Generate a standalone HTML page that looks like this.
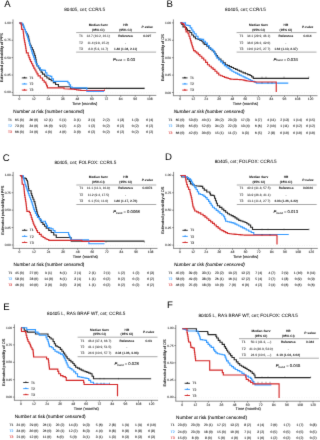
<!DOCTYPE html>
<html><head><meta charset="utf-8"><style>
html,body{margin:0;padding:0;background:#fff;width:320px;height:440px;overflow:hidden}
svg{display:block;will-change:transform;filter:none}
text{font-family:"Liberation Sans", sans-serif;text-rendering:geometricPrecision;paint-order:stroke}
</style></head><body>
<svg width="320" height="440" viewBox="0 0 320 440">
<defs><filter id="bl" x="0" y="0" width="1" height="1"><feConvolveMatrix order="3" kernelMatrix="0.00694 0.06944 0.00694 0.06944 0.69444 0.06944 0.00694 0.06944 0.00694" divisor="1" preserveAlpha="false" edgeMode="none"/></filter></defs>
<rect width="320" height="440" fill="#fff"/>
<g filter="url(#bl)">
<text x="4.20" y="6.60" font-size="9.6">A</text>
<text x="84.65" y="10.70" font-size="4.65" text-anchor="middle" stroke="#111" stroke-width="0.02">80405, cet; CCR/L5</text>
<text x="0.00" y="0.00" font-size="3.9" text-anchor="middle" stroke="#111" stroke-width="0.07" transform="translate(3.40,57.65) rotate(-90)">Estimated probability of PFS</text>
<line x1="14.00" y1="92.80" x2="156.30" y2="92.80" stroke="#ccc" stroke-width="0.3" stroke-dasharray="0.8,1.6"/>
<line x1="13.00" y1="19.40" x2="13.00" y2="95.40" stroke="#808080" stroke-width="0.9"/>
<line x1="12.55" y1="95.40" x2="156.30" y2="95.40" stroke="#808080" stroke-width="0.9"/>
<line x1="11.50" y1="22.90" x2="13.00" y2="22.90" stroke="#444" stroke-width="0.6"/>
<text x="10.70" y="23.95" font-size="3.2" text-anchor="end" fill="#333" stroke="#333" stroke-width="0.08">1.00</text>
<line x1="11.50" y1="40.27" x2="13.00" y2="40.27" stroke="#444" stroke-width="0.6"/>
<text x="10.70" y="41.32" font-size="3.2" text-anchor="end" fill="#333" stroke="#333" stroke-width="0.08">0.75</text>
<line x1="11.50" y1="57.65" x2="13.00" y2="57.65" stroke="#444" stroke-width="0.6"/>
<text x="10.70" y="58.70" font-size="3.2" text-anchor="end" fill="#333" stroke="#333" stroke-width="0.08">0.50</text>
<line x1="11.50" y1="75.03" x2="13.00" y2="75.03" stroke="#444" stroke-width="0.6"/>
<text x="10.70" y="76.08" font-size="3.2" text-anchor="end" fill="#333" stroke="#333" stroke-width="0.08">0.25</text>
<line x1="11.50" y1="92.40" x2="13.00" y2="92.40" stroke="#444" stroke-width="0.6"/>
<text x="10.70" y="93.45" font-size="3.2" text-anchor="end" fill="#333" stroke="#333" stroke-width="0.08">0.00</text>
<line x1="19.40" y1="95.40" x2="19.40" y2="96.80" stroke="#444" stroke-width="0.6"/>
<text x="19.40" y="100.10" font-size="3.4" text-anchor="middle" fill="#333" stroke="#333" stroke-width="0.08">0</text>
<line x1="33.88" y1="95.40" x2="33.88" y2="96.80" stroke="#444" stroke-width="0.6"/>
<text x="33.88" y="100.10" font-size="3.4" text-anchor="middle" fill="#333" stroke="#333" stroke-width="0.08">12</text>
<line x1="48.36" y1="95.40" x2="48.36" y2="96.80" stroke="#444" stroke-width="0.6"/>
<text x="48.36" y="100.10" font-size="3.4" text-anchor="middle" fill="#333" stroke="#333" stroke-width="0.08">24</text>
<line x1="62.84" y1="95.40" x2="62.84" y2="96.80" stroke="#444" stroke-width="0.6"/>
<text x="62.84" y="100.10" font-size="3.4" text-anchor="middle" fill="#333" stroke="#333" stroke-width="0.08">36</text>
<line x1="77.32" y1="95.40" x2="77.32" y2="96.80" stroke="#444" stroke-width="0.6"/>
<text x="77.32" y="100.10" font-size="3.4" text-anchor="middle" fill="#333" stroke="#333" stroke-width="0.08">48</text>
<line x1="91.80" y1="95.40" x2="91.80" y2="96.80" stroke="#444" stroke-width="0.6"/>
<text x="91.80" y="100.10" font-size="3.4" text-anchor="middle" fill="#333" stroke="#333" stroke-width="0.08">60</text>
<line x1="106.28" y1="95.40" x2="106.28" y2="96.80" stroke="#444" stroke-width="0.6"/>
<text x="106.28" y="100.10" font-size="3.4" text-anchor="middle" fill="#333" stroke="#333" stroke-width="0.08">72</text>
<line x1="120.76" y1="95.40" x2="120.76" y2="96.80" stroke="#444" stroke-width="0.6"/>
<text x="120.76" y="100.10" font-size="3.4" text-anchor="middle" fill="#333" stroke="#333" stroke-width="0.08">84</text>
<line x1="135.24" y1="95.40" x2="135.24" y2="96.80" stroke="#444" stroke-width="0.6"/>
<text x="135.24" y="100.10" font-size="3.4" text-anchor="middle" fill="#333" stroke="#333" stroke-width="0.08">96</text>
<line x1="149.72" y1="95.40" x2="149.72" y2="96.80" stroke="#444" stroke-width="0.6"/>
<text x="149.72" y="100.10" font-size="3.4" text-anchor="middle" fill="#333" stroke="#333" stroke-width="0.08">108</text>
<text x="84.65" y="104.60" font-size="3.95" text-anchor="middle" stroke="#111" stroke-width="0.06">Time (months)</text>
<polyline points="19.30,23.00 20.90,23.00 20.90,24.00 22.50,24.00 22.50,25.00 23.47,25.00 23.47,27.23 24.43,27.23 24.43,29.47 25.40,29.47 25.40,31.70 26.33,31.70 26.33,33.43 27.27,33.43 27.27,35.17 28.20,35.17 28.20,36.90 28.68,36.90 28.68,39.00 29.15,39.00 29.15,41.10 29.62,41.10 29.62,43.20 30.10,43.20 30.10,45.30 31.20,45.30 31.20,47.50 32.30,47.50 32.30,49.70 33.40,49.70 33.40,51.90 34.03,51.90 34.03,53.77 34.67,53.77 34.67,55.63 35.30,55.63 35.30,57.50 35.72,57.50 35.72,59.60 36.15,59.60 36.15,61.70 36.58,61.70 36.58,63.80 37.00,63.80 37.00,65.90 38.38,65.90 38.38,67.95 39.75,67.95 39.75,70.00 41.12,70.00 41.12,72.05 42.50,72.05 42.50,74.10 44.70,74.10 44.70,76.05 46.90,76.05 46.90,78.00 49.08,78.00 49.08,79.35 51.25,79.35 51.25,80.70 53.42,80.70 53.42,82.60 55.60,82.60 55.60,84.50 58.40,84.50 58.40,86.70 70.50,86.70 70.50,88.40 144.50,88.40" fill="none" stroke="#2b2b2b" stroke-width="1.15" stroke-linejoin="miter"/>
<polyline points="19.30,23.00 22.20,23.00 22.20,23.75 22.97,23.75 22.97,25.63 23.73,25.63 23.73,27.52 24.50,27.52 24.50,29.40 25.45,29.40 25.45,31.70 26.40,31.70 26.40,34.00 26.96,34.00 26.96,35.88 27.52,35.88 27.52,37.76 28.08,37.76 28.08,39.64 28.64,39.64 28.64,41.52 29.20,41.52 29.20,43.40 29.78,43.40 29.78,45.33 30.37,45.33 30.37,47.27 30.95,47.27 30.95,49.20 31.53,49.20 31.53,51.13 32.12,51.13 32.12,53.07 32.70,53.07 32.70,55.00 33.50,55.00 33.50,57.19 34.30,57.19 34.30,59.38 35.10,59.38 35.10,61.56 35.90,61.56 35.90,63.75 37.37,63.75 37.37,65.77 38.83,65.77 38.83,67.78 40.30,67.78 40.30,69.80 42.20,69.80 42.20,70.05 44.10,70.05 44.10,70.30 45.50,70.30 45.50,72.75 46.90,72.75 46.90,75.20 48.55,75.20 48.55,75.75 50.20,75.75 50.20,76.30 51.80,76.30 51.80,78.80 53.40,78.80 53.40,81.30 67.90,81.30 67.90,82.70 69.20,82.70 69.20,84.85 70.50,84.85 70.50,87.00 72.20,87.00 72.20,87.90 86.80,87.90 86.80,91.30 104.20,91.30" fill="none" stroke="#3399ff" stroke-width="1.15" stroke-linejoin="miter"/>
<polyline points="19.30,23.00 21.20,23.00 21.20,24.20 21.37,24.20 21.37,25.93 21.53,25.93 21.53,27.67 21.70,27.67 21.70,29.40 23.10,29.40 23.10,31.20 23.33,31.20 23.33,33.08 23.55,33.08 23.55,34.95 23.77,34.95 23.77,36.83 24.00,36.83 24.00,38.70 24.35,38.70 24.35,40.58 24.70,40.58 24.70,42.45 25.05,42.45 25.05,44.33 25.40,44.33 25.40,46.20 25.73,46.20 25.73,48.40 26.07,48.40 26.07,50.60 26.40,50.60 26.40,52.80 28.20,52.80 28.20,55.60 28.97,55.60 28.97,57.60 29.73,57.60 29.73,59.60 30.50,59.60 30.50,61.60 31.58,61.60 31.58,63.77 32.67,63.77 32.67,65.93 33.75,65.93 33.75,68.10 34.84,68.10 34.84,70.02 35.92,70.02 35.92,71.95 37.01,71.95 37.01,73.88 38.10,73.88 38.10,75.80 40.30,75.80 40.30,78.00 42.50,78.00 42.50,80.20 44.15,80.20 44.15,82.10 45.80,82.10 45.80,84.00 46.60,84.00 46.60,85.90 47.40,85.90 47.40,87.80 64.00,87.80 64.00,88.80 72.20,89.10 74.35,89.10 74.35,89.45 76.50,89.45 76.50,89.80 78.65,89.80 78.65,90.15 80.80,90.15 80.80,90.50 104.40,90.50 104.60,89.50" fill="none" stroke="#d42a2a" stroke-width="1.15" stroke-linejoin="miter"/>
<line x1="106.60" y1="87.60" x2="106.60" y2="89.10" stroke="#2b2b2b" stroke-width="0.45"/>
<line x1="109.00" y1="87.60" x2="109.00" y2="89.10" stroke="#2b2b2b" stroke-width="0.45"/>
<line x1="144.00" y1="87.60" x2="144.00" y2="89.10" stroke="#2b2b2b" stroke-width="0.45"/>
<line x1="21.80" y1="77.90" x2="27.20" y2="77.90" stroke="#2b2b2b" stroke-width="0.9"/>
<polygon points="23.20,78.20 24.50,76.60 25.80,78.20" fill="#2b2b2b"/>
<text x="29.60" y="79.00" font-size="3.3" fill="#222" stroke="#222" stroke-width="0.1">T1</text>
<line x1="21.80" y1="84.00" x2="27.20" y2="84.00" stroke="#3399ff" stroke-width="0.9"/>
<polygon points="23.20,84.30 24.50,82.70 25.80,84.30" fill="#3399ff"/>
<text x="29.60" y="85.10" font-size="3.3" fill="#222" stroke="#222" stroke-width="0.1">T2</text>
<line x1="21.80" y1="90.10" x2="27.20" y2="90.10" stroke="#d42a2a" stroke-width="0.9"/>
<polygon points="23.20,90.40 24.50,88.80 25.80,90.40" fill="#d42a2a"/>
<text x="29.60" y="91.20" font-size="3.3" fill="#222" stroke="#222" stroke-width="0.1">T3</text>
<line x1="76.20" y1="32.60" x2="156.10" y2="32.60" stroke="#555" stroke-width="0.5"/>
<line x1="76.20" y1="52.10" x2="156.10" y2="52.10" stroke="#555" stroke-width="0.5"/>
<text x="98.20" y="26.00" font-size="3.2" text-anchor="middle" font-weight="bold">Median Surv</text>
<text x="98.20" y="30.80" font-size="3.2" text-anchor="middle" font-weight="bold">(95% CI)</text>
<text x="125.50" y="26.00" font-size="3.2" text-anchor="middle" font-weight="bold">HR</text>
<text x="125.50" y="30.80" font-size="3.2" text-anchor="middle" font-weight="bold">(95% CI)</text>
<text x="147.20" y="28.30" font-size="3.2" text-anchor="middle" font-weight="bold" font-style="italic">P-value</text>
<text x="79.00" y="36.90" font-size="3.3" fill="#222" stroke="#222" stroke-width="0.06">T1</text>
<text x="98.20" y="36.90" font-size="3.2" text-anchor="middle" fill="#222" stroke="#222" stroke-width="0.04">12.7 (10.2, 16.1)</text>
<text x="79.00" y="43.80" font-size="3.3" fill="#222" stroke="#222" stroke-width="0.06">T2</text>
<text x="98.20" y="43.80" font-size="3.2" text-anchor="middle" fill="#222" stroke="#222" stroke-width="0.04">11.4 (9.8, 15.2)</text>
<text x="79.00" y="49.70" font-size="3.3" fill="#222" stroke="#222" stroke-width="0.06">T3</text>
<text x="98.20" y="49.70" font-size="3.2" text-anchor="middle" fill="#222" stroke="#222" stroke-width="0.04">8.0 (5.3, 11.7)</text>
<text x="125.50" y="36.90" font-size="3.2" text-anchor="middle" stroke="#111" stroke-width="0.08">Reference</text>
<text x="125.50" y="43.80" font-size="3.2" text-anchor="middle" stroke="#111" stroke-width="0.08">-</text>
<text x="125.50" y="49.70" font-size="3.2" text-anchor="middle" stroke="#111" stroke-width="0.08">1.48 (1.04, 2.11)</text>
<text x="147.20" y="36.90" font-size="3.2" text-anchor="middle" stroke="#111" stroke-width="0.08">0.027</text>
<text x="113.00" y="60.50" font-size="4.2" stroke="#111" stroke-width="0.05"><tspan font-style="italic">P</tspan><tspan font-size="2.8" dy="0.9">trend</tspan><tspan dy="-0.9"> = 0.03</tspan></text>
<text x="13.30" y="112.80" font-size="4.66" stroke="#111" stroke-width="0.05">Number at risk (number censored)</text>
<text x="8.00" y="120.60" font-size="3.3" fill="#2b2b2b" stroke="#2b2b2b" stroke-width="0.1">T1</text>
<text x="19.40" y="120.60" font-size="3.35" text-anchor="middle" fill="#222" stroke="#222" stroke-width="0.08">65 (0)</text>
<text x="33.88" y="120.60" font-size="3.35" text-anchor="middle" fill="#222" stroke="#222" stroke-width="0.08">36 (0)</text>
<text x="48.36" y="120.60" font-size="3.35" text-anchor="middle" fill="#222" stroke="#222" stroke-width="0.08">12 (1)</text>
<text x="62.84" y="120.60" font-size="3.35" text-anchor="middle" fill="#222" stroke="#222" stroke-width="0.08">5 (1)</text>
<text x="77.32" y="120.60" font-size="3.35" text-anchor="middle" fill="#222" stroke="#222" stroke-width="0.08">3 (1)</text>
<text x="91.80" y="120.60" font-size="3.35" text-anchor="middle" fill="#222" stroke="#222" stroke-width="0.08">3 (1)</text>
<text x="106.28" y="120.60" font-size="3.35" text-anchor="middle" fill="#222" stroke="#222" stroke-width="0.08">2 (2)</text>
<text x="120.76" y="120.60" font-size="3.35" text-anchor="middle" fill="#222" stroke="#222" stroke-width="0.08">1 (3)</text>
<text x="135.24" y="120.60" font-size="3.35" text-anchor="middle" fill="#222" stroke="#222" stroke-width="0.08">1 (3)</text>
<text x="149.72" y="120.60" font-size="3.35" text-anchor="middle" fill="#222" stroke="#222" stroke-width="0.08">0 (4)</text>
<text x="8.00" y="126.80" font-size="3.3" fill="#3399ff" stroke="#3399ff" stroke-width="0.1">T2</text>
<text x="19.40" y="126.80" font-size="3.35" text-anchor="middle" fill="#222" stroke="#222" stroke-width="0.08">73 (0)</text>
<text x="33.88" y="126.80" font-size="3.35" text-anchor="middle" fill="#222" stroke="#222" stroke-width="0.08">34 (0)</text>
<text x="48.36" y="126.80" font-size="3.35" text-anchor="middle" fill="#222" stroke="#222" stroke-width="0.08">16 (0)</text>
<text x="62.84" y="126.80" font-size="3.35" text-anchor="middle" fill="#222" stroke="#222" stroke-width="0.08">9 (2)</text>
<text x="77.32" y="126.80" font-size="3.35" text-anchor="middle" fill="#222" stroke="#222" stroke-width="0.08">4 (2)</text>
<text x="91.80" y="126.80" font-size="3.35" text-anchor="middle" fill="#222" stroke="#222" stroke-width="0.08">1 (2)</text>
<text x="106.28" y="126.80" font-size="3.35" text-anchor="middle" fill="#222" stroke="#222" stroke-width="0.08">0 (2)</text>
<text x="120.76" y="126.80" font-size="3.35" text-anchor="middle" fill="#222" stroke="#222" stroke-width="0.08">0 (2)</text>
<text x="135.24" y="126.80" font-size="3.35" text-anchor="middle" fill="#222" stroke="#222" stroke-width="0.08">0 (2)</text>
<text x="149.72" y="126.80" font-size="3.35" text-anchor="middle" fill="#222" stroke="#222" stroke-width="0.08">0 (2)</text>
<text x="8.00" y="133.20" font-size="3.3" fill="#d42a2a" stroke="#d42a2a" stroke-width="0.1">T3</text>
<text x="19.40" y="133.20" font-size="3.35" text-anchor="middle" fill="#222" stroke="#222" stroke-width="0.08">66 (0)</text>
<text x="33.88" y="133.20" font-size="3.35" text-anchor="middle" fill="#222" stroke="#222" stroke-width="0.08">24 (0)</text>
<text x="48.36" y="133.20" font-size="3.35" text-anchor="middle" fill="#222" stroke="#222" stroke-width="0.08">4 (0)</text>
<text x="62.84" y="133.20" font-size="3.35" text-anchor="middle" fill="#222" stroke="#222" stroke-width="0.08">4 (0)</text>
<text x="77.32" y="133.20" font-size="3.35" text-anchor="middle" fill="#222" stroke="#222" stroke-width="0.08">3 (0)</text>
<text x="91.80" y="133.20" font-size="3.35" text-anchor="middle" fill="#222" stroke="#222" stroke-width="0.08">0 (2)</text>
<text x="106.28" y="133.20" font-size="3.35" text-anchor="middle" fill="#222" stroke="#222" stroke-width="0.08">0 (2)</text>
<text x="120.76" y="133.20" font-size="3.35" text-anchor="middle" fill="#222" stroke="#222" stroke-width="0.08">0 (2)</text>
<text x="135.24" y="133.20" font-size="3.35" text-anchor="middle" fill="#222" stroke="#222" stroke-width="0.08">0 (2)</text>
<text x="149.72" y="133.20" font-size="3.35" text-anchor="middle" fill="#222" stroke="#222" stroke-width="0.08">0 (2)</text>
<text x="166.40" y="6.60" font-size="9.6">B</text>
<text x="245.45" y="10.70" font-size="4.65" text-anchor="middle" stroke="#111" stroke-width="0.02">80405, cet; CCR/L5</text>
<text x="0.00" y="0.00" font-size="3.9" text-anchor="middle" stroke="#111" stroke-width="0.07" transform="translate(163.80,57.70) rotate(-90)">Estimated probability of OS</text>
<line x1="174.40" y1="92.90" x2="317.50" y2="92.90" stroke="#ccc" stroke-width="0.3" stroke-dasharray="0.8,1.6"/>
<line x1="173.40" y1="19.40" x2="173.40" y2="95.70" stroke="#808080" stroke-width="0.9"/>
<line x1="172.95" y1="95.70" x2="317.50" y2="95.70" stroke="#808080" stroke-width="0.9"/>
<line x1="171.90" y1="22.90" x2="173.40" y2="22.90" stroke="#444" stroke-width="0.6"/>
<text x="171.10" y="23.95" font-size="3.2" text-anchor="end" fill="#333" stroke="#333" stroke-width="0.08">1.00</text>
<line x1="171.90" y1="40.30" x2="173.40" y2="40.30" stroke="#444" stroke-width="0.6"/>
<text x="171.10" y="41.35" font-size="3.2" text-anchor="end" fill="#333" stroke="#333" stroke-width="0.08">0.75</text>
<line x1="171.90" y1="57.70" x2="173.40" y2="57.70" stroke="#444" stroke-width="0.6"/>
<text x="171.10" y="58.75" font-size="3.2" text-anchor="end" fill="#333" stroke="#333" stroke-width="0.08">0.50</text>
<line x1="171.90" y1="75.10" x2="173.40" y2="75.10" stroke="#444" stroke-width="0.6"/>
<text x="171.10" y="76.15" font-size="3.2" text-anchor="end" fill="#333" stroke="#333" stroke-width="0.08">0.25</text>
<line x1="171.90" y1="92.50" x2="173.40" y2="92.50" stroke="#444" stroke-width="0.6"/>
<text x="171.10" y="93.55" font-size="3.2" text-anchor="end" fill="#333" stroke="#333" stroke-width="0.08">0.00</text>
<line x1="180.10" y1="95.70" x2="180.10" y2="97.10" stroke="#444" stroke-width="0.6"/>
<text x="180.10" y="100.40" font-size="3.4" text-anchor="middle" fill="#333" stroke="#333" stroke-width="0.08">0</text>
<line x1="193.15" y1="95.70" x2="193.15" y2="97.10" stroke="#444" stroke-width="0.6"/>
<text x="193.15" y="100.40" font-size="3.4" text-anchor="middle" fill="#333" stroke="#333" stroke-width="0.08">12</text>
<line x1="206.20" y1="95.70" x2="206.20" y2="97.10" stroke="#444" stroke-width="0.6"/>
<text x="206.20" y="100.40" font-size="3.4" text-anchor="middle" fill="#333" stroke="#333" stroke-width="0.08">24</text>
<line x1="219.25" y1="95.70" x2="219.25" y2="97.10" stroke="#444" stroke-width="0.6"/>
<text x="219.25" y="100.40" font-size="3.4" text-anchor="middle" fill="#333" stroke="#333" stroke-width="0.08">36</text>
<line x1="232.30" y1="95.70" x2="232.30" y2="97.10" stroke="#444" stroke-width="0.6"/>
<text x="232.30" y="100.40" font-size="3.4" text-anchor="middle" fill="#333" stroke="#333" stroke-width="0.08">48</text>
<line x1="245.35" y1="95.70" x2="245.35" y2="97.10" stroke="#444" stroke-width="0.6"/>
<text x="245.35" y="100.40" font-size="3.4" text-anchor="middle" fill="#333" stroke="#333" stroke-width="0.08">60</text>
<line x1="258.40" y1="95.70" x2="258.40" y2="97.10" stroke="#444" stroke-width="0.6"/>
<text x="258.40" y="100.40" font-size="3.4" text-anchor="middle" fill="#333" stroke="#333" stroke-width="0.08">72</text>
<line x1="271.45" y1="95.70" x2="271.45" y2="97.10" stroke="#444" stroke-width="0.6"/>
<text x="271.45" y="100.40" font-size="3.4" text-anchor="middle" fill="#333" stroke="#333" stroke-width="0.08">84</text>
<line x1="284.50" y1="95.70" x2="284.50" y2="97.10" stroke="#444" stroke-width="0.6"/>
<text x="284.50" y="100.40" font-size="3.4" text-anchor="middle" fill="#333" stroke="#333" stroke-width="0.08">96</text>
<line x1="297.55" y1="95.70" x2="297.55" y2="97.10" stroke="#444" stroke-width="0.6"/>
<text x="297.55" y="100.40" font-size="3.4" text-anchor="middle" fill="#333" stroke="#333" stroke-width="0.08">108</text>
<line x1="310.60" y1="95.70" x2="310.60" y2="97.10" stroke="#444" stroke-width="0.6"/>
<text x="310.60" y="100.40" font-size="3.4" text-anchor="middle" fill="#333" stroke="#333" stroke-width="0.08">120</text>
<text x="245.45" y="104.90" font-size="3.95" text-anchor="middle" stroke="#111" stroke-width="0.06">Time (months)</text>
<polyline points="180.50,22.90 181.75,22.90 181.75,24.40 183.00,24.40 183.00,26.90 185.50,26.90 185.50,27.50 186.45,27.50 186.45,29.05 187.40,29.05 187.40,30.60 189.90,30.60 189.90,32.50 191.75,32.50 191.75,35.00 193.62,35.00 193.62,36.88 195.50,36.88 195.50,38.75 198.00,38.75 198.00,39.40 199.88,39.40 199.88,40.33 201.75,40.33 201.75,41.25 203.00,41.25 203.00,42.83 204.25,42.83 204.25,44.40 206.75,44.40 206.75,46.25 208.62,46.25 208.62,47.83 210.50,47.83 210.50,49.40 212.05,49.40 212.05,50.65 213.60,50.65 213.60,51.90 214.89,51.90 214.89,53.70 216.18,53.70 216.18,55.50 217.46,55.50 217.46,57.30 218.75,57.30 218.75,59.10 220.93,59.10 220.93,60.97 223.12,60.97 223.12,62.83 225.30,62.83 225.30,64.70 227.36,64.70 227.36,65.64 229.42,65.64 229.42,66.58 231.48,66.58 231.48,67.52 233.54,67.52 233.54,68.46 235.60,68.46 235.60,69.40 237.49,69.40 237.49,70.25 239.38,70.25 239.38,71.10 241.26,71.10 241.26,71.95 243.15,71.95 243.15,72.80 245.43,72.80 245.43,73.70 247.72,73.70 247.72,74.60 250.00,74.60 250.00,75.50 251.65,75.50 251.65,76.90 253.30,76.90 253.30,78.30 309.00,78.30" fill="none" stroke="#2b2b2b" stroke-width="1.15" stroke-linejoin="miter"/>
<polyline points="180.50,22.90 184.25,22.90 185.50,22.90 185.50,25.00 187.05,25.00 187.05,25.30 188.60,25.30 188.60,25.60 190.18,25.60 190.18,27.80 191.75,27.80 191.75,30.00 193.00,30.00 193.00,31.88 194.25,31.88 194.25,33.75 196.12,33.75 196.12,36.25 198.00,36.25 198.00,38.75 199.88,38.75 199.88,39.08 201.75,39.08 201.75,39.40 203.62,39.40 203.62,41.25 205.50,41.25 205.50,43.10 207.38,43.10 207.38,45.60 209.25,45.60 209.25,48.10 211.12,48.10 211.12,49.35 213.00,49.35 213.00,50.60 213.97,50.60 213.97,52.48 214.95,52.48 214.95,54.35 215.93,54.35 215.93,56.23 216.90,56.23 216.90,58.10 218.78,58.10 218.78,59.98 220.65,59.98 220.65,61.85 222.53,61.85 222.53,63.72 224.40,63.72 224.40,65.60 226.28,65.60 226.28,67.01 228.15,67.01 228.15,68.42 230.03,68.42 230.03,69.84 231.90,69.84 231.90,71.25 233.77,71.25 233.77,72.20 235.64,72.20 235.64,73.15 237.51,73.15 237.51,74.10 239.38,74.10 239.38,75.05 241.25,75.05 241.25,76.00 243.13,76.00 243.13,76.92 245.01,76.92 245.01,77.84 246.89,77.84 246.89,78.76 248.77,78.76 248.77,79.68 250.65,79.68 250.65,80.60 252.53,80.60 252.53,81.43 254.42,81.43 254.42,82.27 256.30,82.27 256.30,83.10 288.30,83.10" fill="none" stroke="#3399ff" stroke-width="1.15" stroke-linejoin="miter"/>
<polyline points="180.50,22.90 182.05,22.90 182.05,23.65 183.60,23.65 183.60,24.40 184.25,24.40 184.25,25.95 184.90,25.95 184.90,27.50 185.50,27.50 185.50,29.70 186.10,29.70 186.10,31.90 188.00,31.90 188.00,33.75 188.95,33.75 188.95,36.25 189.90,36.25 189.90,38.75 190.52,38.75 190.52,40.83 191.13,40.83 191.13,42.92 191.75,42.92 191.75,45.00 192.37,45.00 192.37,46.87 192.98,46.87 192.98,48.73 193.60,48.73 193.60,50.60 195.18,50.60 195.18,51.85 196.75,51.85 196.75,53.10 198.32,53.10 198.32,54.67 199.90,54.67 199.90,56.25 201.82,56.25 201.82,58.12 203.75,58.12 203.75,60.00 205.62,60.00 205.62,62.35 207.50,62.35 207.50,64.70 209.37,64.70 209.37,66.27 211.23,66.27 211.23,67.83 213.10,67.83 213.10,69.40 214.98,69.40 214.98,71.27 216.87,71.27 216.87,73.13 218.75,73.13 218.75,75.00 220.63,75.00 220.63,75.77 222.52,75.77 222.52,76.53 224.40,76.53 224.40,77.30 226.27,77.30 226.27,77.90 228.13,77.90 228.13,78.50 230.00,78.50 230.00,79.10 231.88,79.10 231.88,79.20 233.75,79.20 233.75,79.30 235.62,79.30 235.62,79.40 237.50,79.40 237.50,79.50 239.38,79.50 239.38,79.60 241.25,79.60 241.25,79.70 243.13,79.70 243.13,80.13 245.02,80.13 245.02,80.57 246.90,80.57 246.90,81.00 249.05,81.00 249.05,81.25 251.20,81.25 251.20,81.50 253.35,81.50 253.35,81.75 255.50,81.75 255.50,82.00 276.25,82.00 276.25,91.90" fill="none" stroke="#d42a2a" stroke-width="1.15" stroke-linejoin="miter"/>
<line x1="262.00" y1="76.50" x2="262.00" y2="78.00" stroke="#2b2b2b" stroke-width="0.45"/>
<line x1="266.00" y1="76.50" x2="266.00" y2="78.00" stroke="#2b2b2b" stroke-width="0.45"/>
<line x1="284.00" y1="76.50" x2="284.00" y2="78.00" stroke="#2b2b2b" stroke-width="0.45"/>
<line x1="308.70" y1="76.50" x2="308.70" y2="78.00" stroke="#2b2b2b" stroke-width="0.45"/>
<line x1="262.00" y1="82.10" x2="262.00" y2="83.60" stroke="#2b2b2b" stroke-width="0.45"/>
<line x1="268.00" y1="82.10" x2="268.00" y2="83.60" stroke="#2b2b2b" stroke-width="0.45"/>
<line x1="272.00" y1="82.10" x2="272.00" y2="83.60" stroke="#2b2b2b" stroke-width="0.45"/>
<line x1="182.20" y1="77.90" x2="187.60" y2="77.90" stroke="#2b2b2b" stroke-width="0.9"/>
<polygon points="183.60,78.20 184.90,76.60 186.20,78.20" fill="#2b2b2b"/>
<text x="190.00" y="79.00" font-size="3.3" fill="#222" stroke="#222" stroke-width="0.1">T1</text>
<line x1="182.20" y1="84.00" x2="187.60" y2="84.00" stroke="#3399ff" stroke-width="0.9"/>
<polygon points="183.60,84.30 184.90,82.70 186.20,84.30" fill="#3399ff"/>
<text x="190.00" y="85.10" font-size="3.3" fill="#222" stroke="#222" stroke-width="0.1">T2</text>
<line x1="182.20" y1="90.10" x2="187.60" y2="90.10" stroke="#d42a2a" stroke-width="0.9"/>
<polygon points="183.60,90.40 184.90,88.80 186.20,90.40" fill="#d42a2a"/>
<text x="190.00" y="91.20" font-size="3.3" fill="#222" stroke="#222" stroke-width="0.1">T3</text>
<line x1="236.60" y1="32.60" x2="316.50" y2="32.60" stroke="#555" stroke-width="0.5"/>
<line x1="236.60" y1="52.10" x2="316.50" y2="52.10" stroke="#555" stroke-width="0.5"/>
<text x="258.60" y="26.00" font-size="3.2" text-anchor="middle" font-weight="bold">Median Surv</text>
<text x="258.60" y="30.80" font-size="3.2" text-anchor="middle" font-weight="bold">(95% CI)</text>
<text x="285.90" y="26.00" font-size="3.2" text-anchor="middle" font-weight="bold">HR</text>
<text x="285.90" y="30.80" font-size="3.2" text-anchor="middle" font-weight="bold">(95% CI)</text>
<text x="307.60" y="28.30" font-size="3.2" text-anchor="middle" font-weight="bold" font-style="italic">P-value</text>
<text x="239.40" y="36.90" font-size="3.3" fill="#222" stroke="#222" stroke-width="0.06">T1</text>
<text x="258.60" y="36.90" font-size="3.2" text-anchor="middle" fill="#222" stroke="#222" stroke-width="0.04">34.1 (29.9, 46.1)</text>
<text x="239.40" y="43.80" font-size="3.3" fill="#222" stroke="#222" stroke-width="0.06">T2</text>
<text x="258.60" y="43.80" font-size="3.2" text-anchor="middle" fill="#222" stroke="#222" stroke-width="0.04">36.0 (28.2, 42.6)</text>
<text x="239.40" y="49.70" font-size="3.3" fill="#222" stroke="#222" stroke-width="0.06">T3</text>
<text x="258.60" y="49.70" font-size="3.2" text-anchor="middle" fill="#222" stroke="#222" stroke-width="0.04">19.0 (12.5, 27.7)</text>
<text x="285.90" y="36.90" font-size="3.2" text-anchor="middle" stroke="#111" stroke-width="0.08">Reference</text>
<text x="285.90" y="43.80" font-size="3.2" text-anchor="middle" stroke="#111" stroke-width="0.08">-</text>
<text x="285.90" y="49.70" font-size="3.2" text-anchor="middle" stroke="#111" stroke-width="0.08">1.62 (1.10, 2.37)</text>
<text x="307.60" y="36.90" font-size="3.2" text-anchor="middle" stroke="#111" stroke-width="0.08">0.014</text>
<text x="273.40" y="60.50" font-size="4.2" stroke="#111" stroke-width="0.05"><tspan font-style="italic">P</tspan><tspan font-size="2.8" dy="0.9">trend</tspan><tspan dy="-0.9"> = 0.034</tspan></text>
<text x="173.70" y="113.10" font-size="4.66" font-style="italic" stroke="#111" stroke-width="0.05">Number at risk (number censored)</text>
<text x="168.40" y="120.90" font-size="3.3" fill="#2b2b2b" stroke="#2b2b2b" stroke-width="0.1">T1</text>
<text x="180.10" y="120.90" font-size="3.35" text-anchor="middle" fill="#222" stroke="#222" stroke-width="0.08">65 (0)</text>
<text x="193.15" y="120.90" font-size="3.35" text-anchor="middle" fill="#222" stroke="#222" stroke-width="0.08">53 (0)</text>
<text x="206.20" y="120.90" font-size="3.35" text-anchor="middle" fill="#222" stroke="#222" stroke-width="0.08">40 (1)</text>
<text x="219.25" y="120.90" font-size="3.35" text-anchor="middle" fill="#222" stroke="#222" stroke-width="0.08">30 (2)</text>
<text x="232.30" y="120.90" font-size="3.35" text-anchor="middle" fill="#222" stroke="#222" stroke-width="0.08">23 (3)</text>
<text x="245.35" y="120.90" font-size="3.35" text-anchor="middle" fill="#222" stroke="#222" stroke-width="0.08">17 (3)</text>
<text x="258.40" y="120.90" font-size="3.35" text-anchor="middle" fill="#222" stroke="#222" stroke-width="0.08">9 (7)</text>
<text x="271.45" y="120.90" font-size="3.35" text-anchor="middle" fill="#222" stroke="#222" stroke-width="0.08">4 (11)</text>
<text x="284.50" y="120.90" font-size="3.35" text-anchor="middle" fill="#222" stroke="#222" stroke-width="0.08">2 (13)</text>
<text x="297.55" y="120.90" font-size="3.35" text-anchor="middle" fill="#222" stroke="#222" stroke-width="0.08">1 (14)</text>
<text x="310.60" y="120.90" font-size="3.35" text-anchor="middle" fill="#222" stroke="#222" stroke-width="0.08">0 (15)</text>
<text x="168.40" y="127.10" font-size="3.3" fill="#3399ff" stroke="#3399ff" stroke-width="0.1">T2</text>
<text x="180.10" y="127.10" font-size="3.35" text-anchor="middle" fill="#222" stroke="#222" stroke-width="0.08">73 (0)</text>
<text x="193.15" y="127.10" font-size="3.35" text-anchor="middle" fill="#222" stroke="#222" stroke-width="0.08">65 (0)</text>
<text x="206.20" y="127.10" font-size="3.35" text-anchor="middle" fill="#222" stroke="#222" stroke-width="0.08">52 (0)</text>
<text x="219.25" y="127.10" font-size="3.35" text-anchor="middle" fill="#222" stroke="#222" stroke-width="0.08">34 (2)</text>
<text x="232.30" y="127.10" font-size="3.35" text-anchor="middle" fill="#222" stroke="#222" stroke-width="0.08">22 (3)</text>
<text x="245.35" y="127.10" font-size="3.35" text-anchor="middle" fill="#222" stroke="#222" stroke-width="0.08">13 (4)</text>
<text x="258.40" y="127.10" font-size="3.35" text-anchor="middle" fill="#222" stroke="#222" stroke-width="0.08">6 (6)</text>
<text x="271.45" y="127.10" font-size="3.35" text-anchor="middle" fill="#222" stroke="#222" stroke-width="0.08">2 (10)</text>
<text x="284.50" y="127.10" font-size="3.35" text-anchor="middle" fill="#222" stroke="#222" stroke-width="0.08">1 (11)</text>
<text x="297.55" y="127.10" font-size="3.35" text-anchor="middle" fill="#222" stroke="#222" stroke-width="0.08">0 (12)</text>
<text x="310.60" y="127.10" font-size="3.35" text-anchor="middle" fill="#222" stroke="#222" stroke-width="0.08">0 (12)</text>
<text x="168.40" y="133.50" font-size="3.3" fill="#d42a2a" stroke="#d42a2a" stroke-width="0.1">T3</text>
<text x="180.10" y="133.50" font-size="3.35" text-anchor="middle" fill="#222" stroke="#222" stroke-width="0.08">66 (0)</text>
<text x="193.15" y="133.50" font-size="3.35" text-anchor="middle" fill="#222" stroke="#222" stroke-width="0.08">42 (0)</text>
<text x="206.20" y="133.50" font-size="3.35" text-anchor="middle" fill="#222" stroke="#222" stroke-width="0.08">30 (0)</text>
<text x="219.25" y="133.50" font-size="3.35" text-anchor="middle" fill="#222" stroke="#222" stroke-width="0.08">15 (1)</text>
<text x="232.30" y="133.50" font-size="3.35" text-anchor="middle" fill="#222" stroke="#222" stroke-width="0.08">11 (2)</text>
<text x="245.35" y="133.50" font-size="3.35" text-anchor="middle" fill="#222" stroke="#222" stroke-width="0.08">9 (3)</text>
<text x="258.40" y="133.50" font-size="3.35" text-anchor="middle" fill="#222" stroke="#222" stroke-width="0.08">6 (5)</text>
<text x="271.45" y="133.50" font-size="3.35" text-anchor="middle" fill="#222" stroke="#222" stroke-width="0.08">2 (8)</text>
<text x="284.50" y="133.50" font-size="3.35" text-anchor="middle" fill="#222" stroke="#222" stroke-width="0.08">0 (10)</text>
<text x="297.55" y="133.50" font-size="3.35" text-anchor="middle" fill="#222" stroke="#222" stroke-width="0.08">0 (10)</text>
<text x="310.60" y="133.50" font-size="3.35" text-anchor="middle" fill="#222" stroke="#222" stroke-width="0.08">0 (10)</text>
<text x="2.80" y="161.20" font-size="9.6">C</text>
<text x="85.33" y="163.50" font-size="4.65" text-anchor="middle" stroke="#111" stroke-width="0.02">80405, cet; FOLFOX: CCR/L5</text>
<text x="0.00" y="0.00" font-size="3.9" text-anchor="middle" stroke="#111" stroke-width="0.07" transform="translate(3.55,210.15) rotate(-90)">Estimated probability of PFS</text>
<line x1="14.15" y1="245.40" x2="157.50" y2="245.40" stroke="#ccc" stroke-width="0.3" stroke-dasharray="0.8,1.6"/>
<line x1="13.15" y1="171.90" x2="13.15" y2="248.40" stroke="#808080" stroke-width="0.9"/>
<line x1="12.70" y1="248.40" x2="157.50" y2="248.40" stroke="#808080" stroke-width="0.9"/>
<line x1="11.65" y1="175.30" x2="13.15" y2="175.30" stroke="#444" stroke-width="0.6"/>
<text x="10.85" y="176.35" font-size="3.2" text-anchor="end" fill="#333" stroke="#333" stroke-width="0.08">1.00</text>
<line x1="11.65" y1="192.73" x2="13.15" y2="192.73" stroke="#444" stroke-width="0.6"/>
<text x="10.85" y="193.78" font-size="3.2" text-anchor="end" fill="#333" stroke="#333" stroke-width="0.08">0.75</text>
<line x1="11.65" y1="210.15" x2="13.15" y2="210.15" stroke="#444" stroke-width="0.6"/>
<text x="10.85" y="211.20" font-size="3.2" text-anchor="end" fill="#333" stroke="#333" stroke-width="0.08">0.50</text>
<line x1="11.65" y1="227.57" x2="13.15" y2="227.57" stroke="#444" stroke-width="0.6"/>
<text x="10.85" y="228.62" font-size="3.2" text-anchor="end" fill="#333" stroke="#333" stroke-width="0.08">0.25</text>
<line x1="11.65" y1="245.00" x2="13.15" y2="245.00" stroke="#444" stroke-width="0.6"/>
<text x="10.85" y="246.05" font-size="3.2" text-anchor="end" fill="#333" stroke="#333" stroke-width="0.08">0.00</text>
<line x1="19.40" y1="248.40" x2="19.40" y2="249.80" stroke="#444" stroke-width="0.6"/>
<text x="19.40" y="253.10" font-size="3.4" text-anchor="middle" fill="#333" stroke="#333" stroke-width="0.08">0</text>
<line x1="33.98" y1="248.40" x2="33.98" y2="249.80" stroke="#444" stroke-width="0.6"/>
<text x="33.98" y="253.10" font-size="3.4" text-anchor="middle" fill="#333" stroke="#333" stroke-width="0.08">12</text>
<line x1="48.56" y1="248.40" x2="48.56" y2="249.80" stroke="#444" stroke-width="0.6"/>
<text x="48.56" y="253.10" font-size="3.4" text-anchor="middle" fill="#333" stroke="#333" stroke-width="0.08">24</text>
<line x1="63.14" y1="248.40" x2="63.14" y2="249.80" stroke="#444" stroke-width="0.6"/>
<text x="63.14" y="253.10" font-size="3.4" text-anchor="middle" fill="#333" stroke="#333" stroke-width="0.08">36</text>
<line x1="77.72" y1="248.40" x2="77.72" y2="249.80" stroke="#444" stroke-width="0.6"/>
<text x="77.72" y="253.10" font-size="3.4" text-anchor="middle" fill="#333" stroke="#333" stroke-width="0.08">48</text>
<line x1="92.30" y1="248.40" x2="92.30" y2="249.80" stroke="#444" stroke-width="0.6"/>
<text x="92.30" y="253.10" font-size="3.4" text-anchor="middle" fill="#333" stroke="#333" stroke-width="0.08">60</text>
<line x1="106.88" y1="248.40" x2="106.88" y2="249.80" stroke="#444" stroke-width="0.6"/>
<text x="106.88" y="253.10" font-size="3.4" text-anchor="middle" fill="#333" stroke="#333" stroke-width="0.08">72</text>
<line x1="121.46" y1="248.40" x2="121.46" y2="249.80" stroke="#444" stroke-width="0.6"/>
<text x="121.46" y="253.10" font-size="3.4" text-anchor="middle" fill="#333" stroke="#333" stroke-width="0.08">84</text>
<line x1="136.04" y1="248.40" x2="136.04" y2="249.80" stroke="#444" stroke-width="0.6"/>
<text x="136.04" y="253.10" font-size="3.4" text-anchor="middle" fill="#333" stroke="#333" stroke-width="0.08">96</text>
<line x1="150.62" y1="248.40" x2="150.62" y2="249.80" stroke="#444" stroke-width="0.6"/>
<text x="150.62" y="253.10" font-size="3.4" text-anchor="middle" fill="#333" stroke="#333" stroke-width="0.08">108</text>
<text x="85.33" y="257.60" font-size="3.95" text-anchor="middle" stroke="#111" stroke-width="0.06">Time (months)</text>
<polyline points="19.90,175.60 21.55,175.60 21.55,176.85 23.20,176.85 23.20,178.10 25.50,178.10 25.50,178.60 26.45,178.60 26.45,180.20 27.40,180.20 27.40,181.80 27.75,181.80 27.75,184.03 28.10,184.03 28.10,186.25 28.45,186.25 28.45,188.47 28.80,188.47 28.80,190.70 31.10,190.70 31.10,193.60 31.73,193.60 31.73,195.47 32.37,195.47 32.37,197.33 33.00,197.33 33.00,199.20 33.95,199.20 33.95,201.55 34.90,201.55 34.90,203.90 35.33,203.90 35.33,205.75 35.77,205.75 35.77,207.60 36.20,207.60 36.20,209.45 36.63,209.45 36.63,211.30 37.07,211.30 37.07,213.15 37.50,213.15 37.50,215.00 38.44,215.00 38.44,216.88 39.38,216.88 39.38,218.75 40.31,218.75 40.31,220.62 41.25,220.62 41.25,222.50 42.92,222.50 42.92,224.37 44.58,224.37 44.58,226.23 46.25,226.23 46.25,228.10 48.75,228.10 48.75,230.30 51.25,230.30 51.25,232.50 53.75,232.50 53.75,235.00 56.25,235.00 56.25,237.50 70.90,237.50 71.08,237.50 71.08,239.30 71.25,239.30 71.25,241.10 144.40,241.10" fill="none" stroke="#2b2b2b" stroke-width="1.15" stroke-linejoin="miter"/>
<polyline points="19.90,175.60 21.75,175.60 23.20,175.60 23.20,177.60 23.80,177.60 23.80,179.80 24.40,179.80 24.40,182.00 25.00,182.00 25.00,184.20 25.66,184.20 25.66,186.08 26.32,186.08 26.32,187.96 26.98,187.96 26.98,189.84 27.64,189.84 27.64,191.72 28.30,191.72 28.30,193.60 29.06,193.60 29.06,195.66 29.82,195.66 29.82,197.72 30.58,197.72 30.58,199.78 31.34,199.78 31.34,201.84 32.10,201.84 32.10,203.90 32.67,203.90 32.67,205.74 33.25,205.74 33.25,207.57 33.83,207.57 33.83,209.41 34.40,209.41 34.40,211.25 35.43,211.25 35.43,213.33 36.47,213.33 36.47,215.42 37.50,215.42 37.50,217.50 39.38,217.50 39.38,219.38 41.25,219.38 41.25,221.25 44.40,221.25 45.43,221.25 45.43,223.33 46.47,223.33 46.47,225.42 47.50,225.42 47.50,227.50 49.38,227.50 49.38,228.12 51.25,228.12 51.25,228.75 53.12,228.75 53.12,230.62 55.00,230.62 55.00,232.50 67.00,232.50 68.60,232.50 68.60,234.70 69.37,234.70 69.37,236.40 70.13,236.40 70.13,238.10 70.90,238.10 70.90,239.80 88.10,239.80 88.50,239.80 88.50,241.78 88.90,241.78 88.90,243.75 104.50,243.75" fill="none" stroke="#3399ff" stroke-width="1.15" stroke-linejoin="miter"/>
<polyline points="19.90,175.60 21.75,175.60 21.75,176.70 21.86,176.70 21.86,178.57 21.98,178.57 21.98,180.45 22.09,180.45 22.09,182.32 22.20,182.32 22.20,184.20 23.60,184.20 23.60,185.10 23.80,185.10 23.80,187.16 24.00,187.16 24.00,189.22 24.20,189.22 24.20,191.28 24.40,191.28 24.40,193.34 24.60,193.34 24.60,195.40 24.95,195.40 24.95,197.53 25.30,197.53 25.30,199.65 25.65,199.65 25.65,201.78 26.00,201.78 26.00,203.90 26.23,203.90 26.23,205.78 26.45,205.78 26.45,207.65 26.67,207.65 26.67,209.53 26.90,209.53 26.90,211.40 29.40,211.40 29.40,212.50 30.32,212.50 30.32,215.00 31.25,215.00 31.25,217.50 31.88,217.50 31.88,219.38 32.50,219.38 32.50,221.25 33.12,221.25 33.12,223.12 33.75,223.12 33.75,225.00 34.69,225.00 34.69,226.88 35.62,226.88 35.62,228.75 36.56,228.75 36.56,230.62 37.50,230.62 37.50,232.50 39.38,232.50 39.38,234.38 41.25,234.38 41.25,236.25 43.12,236.25 43.12,237.50 45.00,237.50 45.00,238.75 46.88,238.75 46.88,239.53 48.75,239.53 48.75,240.30 80.30,240.30 81.90,240.30 81.90,241.40 104.50,241.40" fill="none" stroke="#d42a2a" stroke-width="1.15" stroke-linejoin="miter"/>
<line x1="106.00" y1="241.20" x2="106.00" y2="242.70" stroke="#2b2b2b" stroke-width="0.45"/>
<line x1="144.40" y1="241.20" x2="144.40" y2="242.70" stroke="#2b2b2b" stroke-width="0.45"/>
<line x1="21.95" y1="230.30" x2="27.35" y2="230.30" stroke="#2b2b2b" stroke-width="0.9"/>
<polygon points="23.35,230.60 24.65,229.00 25.95,230.60" fill="#2b2b2b"/>
<text x="29.75" y="231.40" font-size="3.3" fill="#222" stroke="#222" stroke-width="0.1">T1</text>
<line x1="21.95" y1="236.40" x2="27.35" y2="236.40" stroke="#3399ff" stroke-width="0.9"/>
<polygon points="23.35,236.70 24.65,235.10 25.95,236.70" fill="#3399ff"/>
<text x="29.75" y="237.50" font-size="3.3" fill="#222" stroke="#222" stroke-width="0.1">T2</text>
<line x1="21.95" y1="242.50" x2="27.35" y2="242.50" stroke="#d42a2a" stroke-width="0.9"/>
<polygon points="23.35,242.80 24.65,241.20 25.95,242.80" fill="#d42a2a"/>
<text x="29.75" y="243.60" font-size="3.3" fill="#222" stroke="#222" stroke-width="0.1">T3</text>
<line x1="76.35" y1="185.00" x2="156.25" y2="185.00" stroke="#555" stroke-width="0.5"/>
<line x1="76.35" y1="204.50" x2="156.25" y2="204.50" stroke="#555" stroke-width="0.5"/>
<text x="98.35" y="178.40" font-size="3.2" text-anchor="middle" font-weight="bold">Median Surv</text>
<text x="98.35" y="183.20" font-size="3.2" text-anchor="middle" font-weight="bold">(95% CI)</text>
<text x="125.65" y="178.40" font-size="3.2" text-anchor="middle" font-weight="bold">HR</text>
<text x="125.65" y="183.20" font-size="3.2" text-anchor="middle" font-weight="bold">(95% CI)</text>
<text x="147.35" y="180.70" font-size="3.2" text-anchor="middle" font-weight="bold" font-style="italic">P-value</text>
<text x="79.15" y="189.30" font-size="3.3" fill="#222" stroke="#222" stroke-width="0.06">T1</text>
<text x="98.35" y="189.30" font-size="3.2" text-anchor="middle" fill="#222" stroke="#222" stroke-width="0.04">13.1 (11.3, 16.8)</text>
<text x="79.15" y="196.20" font-size="3.3" fill="#222" stroke="#222" stroke-width="0.06">T2</text>
<text x="98.35" y="196.20" font-size="3.2" text-anchor="middle" fill="#222" stroke="#222" stroke-width="0.04">11.2 (9.4, 17.5)</text>
<text x="79.15" y="202.10" font-size="3.3" fill="#222" stroke="#222" stroke-width="0.06">T3</text>
<text x="98.35" y="202.10" font-size="3.2" text-anchor="middle" fill="#222" stroke="#222" stroke-width="0.04">6.1 (5.0, 11.0)</text>
<text x="125.65" y="189.30" font-size="3.2" text-anchor="middle" stroke="#111" stroke-width="0.08">Reference</text>
<text x="125.65" y="196.20" font-size="3.2" text-anchor="middle" stroke="#111" stroke-width="0.08">-</text>
<text x="125.65" y="202.10" font-size="3.2" text-anchor="middle" stroke="#111" stroke-width="0.08">1.80 (1.17, 2.76)</text>
<text x="147.35" y="189.30" font-size="3.2" text-anchor="middle" stroke="#111" stroke-width="0.08">0.0073</text>
<text x="113.15" y="212.90" font-size="4.2" stroke="#111" stroke-width="0.05"><tspan font-style="italic">P</tspan><tspan font-size="2.8" dy="0.9">trend</tspan><tspan dy="-0.9"> = 0.0068</tspan></text>
<text x="13.45" y="265.80" font-size="4.66" stroke="#111" stroke-width="0.05">Number at risk (number censored)</text>
<text x="8.15" y="273.60" font-size="3.3" fill="#2b2b2b" stroke="#2b2b2b" stroke-width="0.1">T1</text>
<text x="19.40" y="273.60" font-size="3.35" text-anchor="middle" fill="#222" stroke="#222" stroke-width="0.08">45 (0)</text>
<text x="33.98" y="273.60" font-size="3.35" text-anchor="middle" fill="#222" stroke="#222" stroke-width="0.08">27 (0)</text>
<text x="48.56" y="273.60" font-size="3.35" text-anchor="middle" fill="#222" stroke="#222" stroke-width="0.08">9 (1)</text>
<text x="63.14" y="273.60" font-size="3.35" text-anchor="middle" fill="#222" stroke="#222" stroke-width="0.08">6 (1)</text>
<text x="77.72" y="273.60" font-size="3.35" text-anchor="middle" fill="#222" stroke="#222" stroke-width="0.08">2 (1)</text>
<text x="92.30" y="273.60" font-size="3.35" text-anchor="middle" fill="#222" stroke="#222" stroke-width="0.08">2 (1)</text>
<text x="106.88" y="273.60" font-size="3.35" text-anchor="middle" fill="#222" stroke="#222" stroke-width="0.08">2 (1)</text>
<text x="121.46" y="273.60" font-size="3.35" text-anchor="middle" fill="#222" stroke="#222" stroke-width="0.08">1 (2)</text>
<text x="136.04" y="273.60" font-size="3.35" text-anchor="middle" fill="#222" stroke="#222" stroke-width="0.08">1 (2)</text>
<text x="150.62" y="273.60" font-size="3.35" text-anchor="middle" fill="#222" stroke="#222" stroke-width="0.08">0 (3)</text>
<text x="8.15" y="279.80" font-size="3.3" fill="#3399ff" stroke="#3399ff" stroke-width="0.1">T2</text>
<text x="19.40" y="279.80" font-size="3.35" text-anchor="middle" fill="#222" stroke="#222" stroke-width="0.08">58 (0)</text>
<text x="33.98" y="279.80" font-size="3.35" text-anchor="middle" fill="#222" stroke="#222" stroke-width="0.08">28 (0)</text>
<text x="48.56" y="279.80" font-size="3.35" text-anchor="middle" fill="#222" stroke="#222" stroke-width="0.08">14 (0)</text>
<text x="63.14" y="279.80" font-size="3.35" text-anchor="middle" fill="#222" stroke="#222" stroke-width="0.08">6 (1)</text>
<text x="77.72" y="279.80" font-size="3.35" text-anchor="middle" fill="#222" stroke="#222" stroke-width="0.08">3 (1)</text>
<text x="92.30" y="279.80" font-size="3.35" text-anchor="middle" fill="#222" stroke="#222" stroke-width="0.08">1 (1)</text>
<text x="106.88" y="279.80" font-size="3.35" text-anchor="middle" fill="#222" stroke="#222" stroke-width="0.08">0 (2)</text>
<text x="121.46" y="279.80" font-size="3.35" text-anchor="middle" fill="#222" stroke="#222" stroke-width="0.08">0 (2)</text>
<text x="136.04" y="279.80" font-size="3.35" text-anchor="middle" fill="#222" stroke="#222" stroke-width="0.08">0 (2)</text>
<text x="150.62" y="279.80" font-size="3.35" text-anchor="middle" fill="#222" stroke="#222" stroke-width="0.08">0 (2)</text>
<text x="8.15" y="286.20" font-size="3.3" fill="#d42a2a" stroke="#d42a2a" stroke-width="0.1">T3</text>
<text x="19.40" y="286.20" font-size="3.35" text-anchor="middle" fill="#222" stroke="#222" stroke-width="0.08">46 (0)</text>
<text x="33.98" y="286.20" font-size="3.35" text-anchor="middle" fill="#222" stroke="#222" stroke-width="0.08">10 (0)</text>
<text x="48.56" y="286.20" font-size="3.35" text-anchor="middle" fill="#222" stroke="#222" stroke-width="0.08">3 (0)</text>
<text x="63.14" y="286.20" font-size="3.35" text-anchor="middle" fill="#222" stroke="#222" stroke-width="0.08">3 (0)</text>
<text x="77.72" y="286.20" font-size="3.35" text-anchor="middle" fill="#222" stroke="#222" stroke-width="0.08">3 (0)</text>
<text x="92.30" y="286.20" font-size="3.35" text-anchor="middle" fill="#222" stroke="#222" stroke-width="0.08">1 (1)</text>
<text x="106.88" y="286.20" font-size="3.35" text-anchor="middle" fill="#222" stroke="#222" stroke-width="0.08">0 (2)</text>
<text x="121.46" y="286.20" font-size="3.35" text-anchor="middle" fill="#222" stroke="#222" stroke-width="0.08">0 (2)</text>
<text x="136.04" y="286.20" font-size="3.35" text-anchor="middle" fill="#222" stroke="#222" stroke-width="0.08">0 (2)</text>
<text x="150.62" y="286.20" font-size="3.35" text-anchor="middle" fill="#222" stroke="#222" stroke-width="0.08">0 (2)</text>
<text x="165.00" y="160.20" font-size="9.6">D</text>
<text x="245.70" y="163.10" font-size="4.65" text-anchor="middle" stroke="#111" stroke-width="0.02">80405, cet; FOLFOX: CCR/L5</text>
<text x="0.00" y="0.00" font-size="3.9" text-anchor="middle" stroke="#111" stroke-width="0.07" transform="translate(164.00,210.20) rotate(-90)">Estimated probability of OS</text>
<line x1="174.60" y1="245.50" x2="317.80" y2="245.50" stroke="#ccc" stroke-width="0.3" stroke-dasharray="0.8,1.6"/>
<line x1="173.60" y1="171.90" x2="173.60" y2="248.40" stroke="#808080" stroke-width="0.9"/>
<line x1="173.15" y1="248.40" x2="317.80" y2="248.40" stroke="#808080" stroke-width="0.9"/>
<line x1="172.10" y1="175.30" x2="173.60" y2="175.30" stroke="#444" stroke-width="0.6"/>
<text x="171.30" y="176.35" font-size="3.2" text-anchor="end" fill="#333" stroke="#333" stroke-width="0.08">1.00</text>
<line x1="172.10" y1="192.75" x2="173.60" y2="192.75" stroke="#444" stroke-width="0.6"/>
<text x="171.30" y="193.80" font-size="3.2" text-anchor="end" fill="#333" stroke="#333" stroke-width="0.08">0.75</text>
<line x1="172.10" y1="210.20" x2="173.60" y2="210.20" stroke="#444" stroke-width="0.6"/>
<text x="171.30" y="211.25" font-size="3.2" text-anchor="end" fill="#333" stroke="#333" stroke-width="0.08">0.50</text>
<line x1="172.10" y1="227.65" x2="173.60" y2="227.65" stroke="#444" stroke-width="0.6"/>
<text x="171.30" y="228.70" font-size="3.2" text-anchor="end" fill="#333" stroke="#333" stroke-width="0.08">0.25</text>
<line x1="172.10" y1="245.10" x2="173.60" y2="245.10" stroke="#444" stroke-width="0.6"/>
<text x="171.30" y="246.15" font-size="3.2" text-anchor="end" fill="#333" stroke="#333" stroke-width="0.08">0.00</text>
<line x1="180.00" y1="248.40" x2="180.00" y2="249.80" stroke="#444" stroke-width="0.6"/>
<text x="180.00" y="253.10" font-size="3.4" text-anchor="middle" fill="#333" stroke="#333" stroke-width="0.08">0</text>
<line x1="193.12" y1="248.40" x2="193.12" y2="249.80" stroke="#444" stroke-width="0.6"/>
<text x="193.12" y="253.10" font-size="3.4" text-anchor="middle" fill="#333" stroke="#333" stroke-width="0.08">12</text>
<line x1="206.25" y1="248.40" x2="206.25" y2="249.80" stroke="#444" stroke-width="0.6"/>
<text x="206.25" y="253.10" font-size="3.4" text-anchor="middle" fill="#333" stroke="#333" stroke-width="0.08">24</text>
<line x1="219.38" y1="248.40" x2="219.38" y2="249.80" stroke="#444" stroke-width="0.6"/>
<text x="219.38" y="253.10" font-size="3.4" text-anchor="middle" fill="#333" stroke="#333" stroke-width="0.08">36</text>
<line x1="232.50" y1="248.40" x2="232.50" y2="249.80" stroke="#444" stroke-width="0.6"/>
<text x="232.50" y="253.10" font-size="3.4" text-anchor="middle" fill="#333" stroke="#333" stroke-width="0.08">48</text>
<line x1="245.62" y1="248.40" x2="245.62" y2="249.80" stroke="#444" stroke-width="0.6"/>
<text x="245.62" y="253.10" font-size="3.4" text-anchor="middle" fill="#333" stroke="#333" stroke-width="0.08">60</text>
<line x1="258.75" y1="248.40" x2="258.75" y2="249.80" stroke="#444" stroke-width="0.6"/>
<text x="258.75" y="253.10" font-size="3.4" text-anchor="middle" fill="#333" stroke="#333" stroke-width="0.08">72</text>
<line x1="271.88" y1="248.40" x2="271.88" y2="249.80" stroke="#444" stroke-width="0.6"/>
<text x="271.88" y="253.10" font-size="3.4" text-anchor="middle" fill="#333" stroke="#333" stroke-width="0.08">84</text>
<line x1="285.00" y1="248.40" x2="285.00" y2="249.80" stroke="#444" stroke-width="0.6"/>
<text x="285.00" y="253.10" font-size="3.4" text-anchor="middle" fill="#333" stroke="#333" stroke-width="0.08">96</text>
<line x1="298.12" y1="248.40" x2="298.12" y2="249.80" stroke="#444" stroke-width="0.6"/>
<text x="298.12" y="253.10" font-size="3.4" text-anchor="middle" fill="#333" stroke="#333" stroke-width="0.08">108</text>
<line x1="311.25" y1="248.40" x2="311.25" y2="249.80" stroke="#444" stroke-width="0.6"/>
<text x="311.25" y="253.10" font-size="3.4" text-anchor="middle" fill="#333" stroke="#333" stroke-width="0.08">120</text>
<text x="245.70" y="257.60" font-size="3.95" text-anchor="middle" stroke="#111" stroke-width="0.06">Time (months)</text>
<polyline points="180.50,175.50 181.75,175.50 181.75,177.00 185.50,177.00 187.38,177.00 187.38,179.20 189.25,179.20 189.25,181.40 190.50,181.40 190.50,183.90 192.38,183.90 192.38,184.82 194.25,184.82 194.25,185.75 196.53,185.75 196.53,185.97 198.82,185.97 198.82,186.18 201.10,186.18 201.10,186.40 202.68,186.40 202.68,188.25 204.25,188.25 204.25,190.10 206.75,190.10 206.75,192.00 209.25,192.00 209.88,192.00 209.88,193.55 210.50,193.55 210.50,195.10 212.05,195.10 212.05,195.43 213.60,195.43 213.60,195.75 214.55,195.75 214.55,198.25 215.50,198.25 215.50,200.75 216.45,200.75 216.45,203.25 217.40,203.25 217.40,205.75 219.65,205.75 219.65,207.43 221.90,207.43 221.90,209.10 223.77,209.10 223.77,210.65 225.63,210.65 225.63,212.20 227.50,212.20 227.50,213.75 229.38,213.75 229.38,214.70 231.27,214.70 231.27,215.65 233.15,215.65 233.15,216.60 235.02,216.60 235.02,217.83 236.88,217.83 236.88,219.07 238.75,219.07 238.75,220.30 240.83,220.30 240.83,221.03 242.92,221.03 242.92,221.77 245.00,221.77 245.00,222.50 246.88,222.50 246.88,223.75 248.75,223.75 248.75,225.00 250.62,225.00 250.62,227.25 252.50,227.25 252.50,229.50 308.75,229.50" fill="none" stroke="#2b2b2b" stroke-width="1.15" stroke-linejoin="miter"/>
<polyline points="180.50,175.50 182.58,175.50 182.58,176.20 184.67,176.20 184.67,176.90 186.75,176.90 186.75,177.60 188.62,177.60 188.62,178.85 190.50,178.85 190.50,180.10 191.53,180.10 191.53,181.98 192.57,181.98 192.57,183.87 193.60,183.87 193.60,185.75 194.85,185.75 194.85,187.62 196.10,187.62 196.10,189.50 197.35,189.50 197.35,191.70 198.60,191.70 198.60,193.90 200.50,193.90 200.50,194.50 202.40,194.50 202.40,195.10 203.95,195.10 203.95,196.35 205.50,196.35 205.50,197.60 207.05,197.60 207.05,199.50 208.60,199.50 208.60,201.40 209.90,201.40 209.90,203.33 211.20,203.33 211.20,205.27 212.50,205.27 212.50,207.20 214.37,207.20 214.37,208.77 216.23,208.77 216.23,210.33 218.10,210.33 218.10,211.90 219.98,211.90 219.98,213.47 221.87,213.47 221.87,215.03 223.75,215.03 223.75,216.60 224.68,216.60 224.68,218.93 225.60,218.93 225.60,221.25 227.49,221.25 227.49,221.71 229.38,221.71 229.38,222.18 231.26,222.18 231.26,222.64 233.15,222.64 233.15,223.10 235.02,223.10 235.02,224.07 236.88,224.07 236.88,225.03 238.75,225.03 238.75,226.00 240.63,226.00 240.63,226.92 242.52,226.92 242.52,227.83 244.40,227.83 244.40,228.75 246.25,228.75 246.25,230.00 248.75,230.00 248.75,231.25 251.25,231.25 251.25,232.50 253.75,232.50 253.75,234.50 288.75,234.50" fill="none" stroke="#3399ff" stroke-width="1.15" stroke-linejoin="miter"/>
<polyline points="180.50,175.50 184.90,175.50 185.30,175.50 185.30,177.67 185.70,177.67 185.70,179.83 186.10,179.83 186.10,182.00 186.75,182.00 186.75,184.50 187.40,184.50 187.40,187.00 188.65,187.00 188.65,189.50 189.90,189.50 189.90,192.00 190.36,192.00 190.36,193.88 190.82,193.88 190.82,195.75 191.29,195.75 191.29,197.62 191.75,197.62 191.75,199.50 192.06,199.50 192.06,201.38 192.38,201.38 192.38,203.25 192.69,203.25 192.69,205.12 193.00,205.12 193.00,207.00 193.85,207.00 193.85,209.00 194.70,209.00 194.70,211.00 196.55,211.00 196.55,211.90 198.40,211.90 198.40,212.80 200.75,212.80 200.75,214.20 203.10,214.20 203.10,215.60 204.98,215.60 204.98,217.17 206.87,217.17 206.87,218.73 208.75,218.73 208.75,220.30 210.63,220.30 210.63,221.87 212.52,221.87 212.52,223.43 214.40,223.43 214.40,225.00 216.27,225.00 216.27,226.57 218.13,226.57 218.13,228.13 220.00,228.13 220.00,229.70 221.88,229.70 221.88,230.65 223.75,230.65 223.75,231.60 225.62,231.60 225.62,232.55 227.50,232.55 227.50,233.50 229.38,233.50 229.38,233.72 231.25,233.72 231.25,233.95 233.12,233.95 233.12,234.18 235.00,234.18 235.00,234.40 236.88,234.40 236.88,234.54 238.76,234.54 238.76,234.68 240.64,234.68 240.64,234.82 242.52,234.82 242.52,234.96 244.40,234.96 244.40,235.10 277.00,235.10 277.00,244.50" fill="none" stroke="#d42a2a" stroke-width="1.15" stroke-linejoin="miter"/>
<line x1="262.00" y1="228.70" x2="262.00" y2="230.20" stroke="#2b2b2b" stroke-width="0.45"/>
<line x1="268.00" y1="228.70" x2="268.00" y2="230.20" stroke="#2b2b2b" stroke-width="0.45"/>
<line x1="284.00" y1="228.70" x2="284.00" y2="230.20" stroke="#2b2b2b" stroke-width="0.45"/>
<line x1="309.00" y1="228.70" x2="309.00" y2="230.20" stroke="#2b2b2b" stroke-width="0.45"/>
<line x1="262.00" y1="234.00" x2="262.00" y2="235.50" stroke="#2b2b2b" stroke-width="0.45"/>
<line x1="270.00" y1="234.00" x2="270.00" y2="235.50" stroke="#2b2b2b" stroke-width="0.45"/>
<line x1="182.40" y1="230.30" x2="187.80" y2="230.30" stroke="#2b2b2b" stroke-width="0.9"/>
<polygon points="183.80,230.60 185.10,229.00 186.40,230.60" fill="#2b2b2b"/>
<text x="190.20" y="231.40" font-size="3.3" fill="#222" stroke="#222" stroke-width="0.1">T1</text>
<line x1="182.40" y1="236.40" x2="187.80" y2="236.40" stroke="#3399ff" stroke-width="0.9"/>
<polygon points="183.80,236.70 185.10,235.10 186.40,236.70" fill="#3399ff"/>
<text x="190.20" y="237.50" font-size="3.3" fill="#222" stroke="#222" stroke-width="0.1">T2</text>
<line x1="182.40" y1="242.50" x2="187.80" y2="242.50" stroke="#d42a2a" stroke-width="0.9"/>
<polygon points="183.80,242.80 185.10,241.20 186.40,242.80" fill="#d42a2a"/>
<text x="190.20" y="243.60" font-size="3.3" fill="#222" stroke="#222" stroke-width="0.1">T3</text>
<line x1="236.80" y1="185.00" x2="316.70" y2="185.00" stroke="#555" stroke-width="0.5"/>
<line x1="236.80" y1="204.50" x2="316.70" y2="204.50" stroke="#555" stroke-width="0.5"/>
<text x="258.80" y="178.40" font-size="3.2" text-anchor="middle" font-weight="bold">Median Surv</text>
<text x="258.80" y="183.20" font-size="3.2" text-anchor="middle" font-weight="bold">(95% CI)</text>
<text x="286.10" y="178.40" font-size="3.2" text-anchor="middle" font-weight="bold">HR</text>
<text x="286.10" y="183.20" font-size="3.2" text-anchor="middle" font-weight="bold">(95% CI)</text>
<text x="307.80" y="180.70" font-size="3.2" text-anchor="middle" font-weight="bold" font-style="italic">P-value</text>
<text x="239.60" y="189.30" font-size="3.3" fill="#222" stroke="#222" stroke-width="0.06">T1</text>
<text x="258.80" y="189.30" font-size="3.2" text-anchor="middle" fill="#222" stroke="#222" stroke-width="0.04">40.2 (31.8, 57.5)</text>
<text x="239.60" y="196.20" font-size="3.3" fill="#222" stroke="#222" stroke-width="0.06">T2</text>
<text x="258.80" y="196.20" font-size="3.2" text-anchor="middle" fill="#222" stroke="#222" stroke-width="0.04">33.9 (26.8, 41.1)</text>
<text x="239.60" y="202.10" font-size="3.3" fill="#222" stroke="#222" stroke-width="0.06">T3</text>
<text x="258.80" y="202.10" font-size="3.2" text-anchor="middle" fill="#222" stroke="#222" stroke-width="0.04">13.1 (11.4, 27.7)</text>
<text x="286.10" y="189.30" font-size="3.2" text-anchor="middle" stroke="#111" stroke-width="0.08">Reference</text>
<text x="286.10" y="196.20" font-size="3.2" text-anchor="middle" stroke="#111" stroke-width="0.08">-</text>
<text x="286.10" y="202.10" font-size="3.2" text-anchor="middle" stroke="#111" stroke-width="0.08">2.03 (1.26, 3.22)</text>
<text x="307.80" y="189.30" font-size="3.2" text-anchor="middle" stroke="#111" stroke-width="0.08">0.0024</text>
<text x="273.60" y="212.90" font-size="4.2" stroke="#111" stroke-width="0.05"><tspan font-style="italic">P</tspan><tspan font-size="2.8" dy="0.9">trend</tspan><tspan dy="-0.9"> = 0.013</tspan></text>
<text x="173.90" y="265.80" font-size="4.66" font-style="italic" stroke="#111" stroke-width="0.05">Number at risk (number censored)</text>
<text x="168.60" y="273.60" font-size="3.3" fill="#2b2b2b" stroke="#2b2b2b" stroke-width="0.1">T1</text>
<text x="180.00" y="273.60" font-size="3.35" text-anchor="middle" fill="#222" stroke="#222" stroke-width="0.08">45 (0)</text>
<text x="193.12" y="273.60" font-size="3.35" text-anchor="middle" fill="#222" stroke="#222" stroke-width="0.08">39 (0)</text>
<text x="206.25" y="273.60" font-size="3.35" text-anchor="middle" fill="#222" stroke="#222" stroke-width="0.08">33 (1)</text>
<text x="219.38" y="273.60" font-size="3.35" text-anchor="middle" fill="#222" stroke="#222" stroke-width="0.08">23 (2)</text>
<text x="232.50" y="273.60" font-size="3.35" text-anchor="middle" fill="#222" stroke="#222" stroke-width="0.08">19 (2)</text>
<text x="245.62" y="273.60" font-size="3.35" text-anchor="middle" fill="#222" stroke="#222" stroke-width="0.08">13 (2)</text>
<text x="258.75" y="273.60" font-size="3.35" text-anchor="middle" fill="#222" stroke="#222" stroke-width="0.08">7 (4)</text>
<text x="271.88" y="273.60" font-size="3.35" text-anchor="middle" fill="#222" stroke="#222" stroke-width="0.08">4 (7)</text>
<text x="285.00" y="273.60" font-size="3.35" text-anchor="middle" fill="#222" stroke="#222" stroke-width="0.08">2 (9)</text>
<text x="298.12" y="273.60" font-size="3.35" text-anchor="middle" fill="#222" stroke="#222" stroke-width="0.08">1 (10)</text>
<text x="311.25" y="273.60" font-size="3.35" text-anchor="middle" fill="#222" stroke="#222" stroke-width="0.08">0 (11)</text>
<text x="168.60" y="279.80" font-size="3.3" fill="#3399ff" stroke="#3399ff" stroke-width="0.1">T2</text>
<text x="180.00" y="279.80" font-size="3.35" text-anchor="middle" fill="#222" stroke="#222" stroke-width="0.08">58 (0)</text>
<text x="193.12" y="279.80" font-size="3.35" text-anchor="middle" fill="#222" stroke="#222" stroke-width="0.08">49 (0)</text>
<text x="206.25" y="279.80" font-size="3.35" text-anchor="middle" fill="#222" stroke="#222" stroke-width="0.08">38 (0)</text>
<text x="219.38" y="279.80" font-size="3.35" text-anchor="middle" fill="#222" stroke="#222" stroke-width="0.08">26 (1)</text>
<text x="232.50" y="279.80" font-size="3.35" text-anchor="middle" fill="#222" stroke="#222" stroke-width="0.08">16 (1)</text>
<text x="245.62" y="279.80" font-size="3.35" text-anchor="middle" fill="#222" stroke="#222" stroke-width="0.08">12 (2)</text>
<text x="258.75" y="279.80" font-size="3.35" text-anchor="middle" fill="#222" stroke="#222" stroke-width="0.08">5 (4)</text>
<text x="271.88" y="279.80" font-size="3.35" text-anchor="middle" fill="#222" stroke="#222" stroke-width="0.08">2 (7)</text>
<text x="285.00" y="279.80" font-size="3.35" text-anchor="middle" fill="#222" stroke="#222" stroke-width="0.08">1 (8)</text>
<text x="298.12" y="279.80" font-size="3.35" text-anchor="middle" fill="#222" stroke="#222" stroke-width="0.08">0 (9)</text>
<text x="311.25" y="279.80" font-size="3.35" text-anchor="middle" fill="#222" stroke="#222" stroke-width="0.08">0 (9)</text>
<text x="168.60" y="286.20" font-size="3.3" fill="#d42a2a" stroke="#d42a2a" stroke-width="0.1">T3</text>
<text x="180.00" y="286.20" font-size="3.35" text-anchor="middle" fill="#222" stroke="#222" stroke-width="0.08">46 (0)</text>
<text x="193.12" y="286.20" font-size="3.35" text-anchor="middle" fill="#222" stroke="#222" stroke-width="0.08">25 (0)</text>
<text x="206.25" y="286.20" font-size="3.35" text-anchor="middle" fill="#222" stroke="#222" stroke-width="0.08">18 (0)</text>
<text x="219.38" y="286.20" font-size="3.35" text-anchor="middle" fill="#222" stroke="#222" stroke-width="0.08">10 (0)</text>
<text x="232.50" y="286.20" font-size="3.35" text-anchor="middle" fill="#222" stroke="#222" stroke-width="0.08">7 (0)</text>
<text x="245.62" y="286.20" font-size="3.35" text-anchor="middle" fill="#222" stroke="#222" stroke-width="0.08">6 (0)</text>
<text x="258.75" y="286.20" font-size="3.35" text-anchor="middle" fill="#222" stroke="#222" stroke-width="0.08">4 (2)</text>
<text x="271.88" y="286.20" font-size="3.35" text-anchor="middle" fill="#222" stroke="#222" stroke-width="0.08">2 (4)</text>
<text x="285.00" y="286.20" font-size="3.35" text-anchor="middle" fill="#222" stroke="#222" stroke-width="0.08">0 (6)</text>
<text x="298.12" y="286.20" font-size="3.35" text-anchor="middle" fill="#222" stroke="#222" stroke-width="0.08">0 (6)</text>
<text x="311.25" y="286.20" font-size="3.35" text-anchor="middle" fill="#222" stroke="#222" stroke-width="0.08">0 (6)</text>
<text x="3.20" y="310.20" font-size="9.6">E</text>
<text x="86.25" y="315.30" font-size="4.65" text-anchor="middle" stroke="#111" stroke-width="0.02">80405 L, RAS BRAF WT, cet; CCR/L5</text>
<text x="0.00" y="0.00" font-size="3.9" text-anchor="middle" stroke="#111" stroke-width="0.07" transform="translate(4.80,362.30) rotate(-90)">Estimated probability of OS</text>
<line x1="15.40" y1="397.50" x2="158.10" y2="397.50" stroke="#ccc" stroke-width="0.3" stroke-dasharray="0.8,1.6"/>
<line x1="14.40" y1="324.40" x2="14.40" y2="400.30" stroke="#808080" stroke-width="0.9"/>
<line x1="13.95" y1="400.30" x2="158.10" y2="400.30" stroke="#808080" stroke-width="0.9"/>
<line x1="12.90" y1="327.50" x2="14.40" y2="327.50" stroke="#444" stroke-width="0.6"/>
<text x="12.10" y="328.55" font-size="3.2" text-anchor="end" fill="#333" stroke="#333" stroke-width="0.08">1.00</text>
<line x1="12.90" y1="344.90" x2="14.40" y2="344.90" stroke="#444" stroke-width="0.6"/>
<text x="12.10" y="345.95" font-size="3.2" text-anchor="end" fill="#333" stroke="#333" stroke-width="0.08">0.75</text>
<line x1="12.90" y1="362.30" x2="14.40" y2="362.30" stroke="#444" stroke-width="0.6"/>
<text x="12.10" y="363.35" font-size="3.2" text-anchor="end" fill="#333" stroke="#333" stroke-width="0.08">0.50</text>
<line x1="12.90" y1="379.70" x2="14.40" y2="379.70" stroke="#444" stroke-width="0.6"/>
<text x="12.10" y="380.75" font-size="3.2" text-anchor="end" fill="#333" stroke="#333" stroke-width="0.08">0.25</text>
<line x1="12.90" y1="397.10" x2="14.40" y2="397.10" stroke="#444" stroke-width="0.6"/>
<text x="12.10" y="398.15" font-size="3.2" text-anchor="end" fill="#333" stroke="#333" stroke-width="0.08">0.00</text>
<line x1="20.90" y1="400.30" x2="20.90" y2="401.70" stroke="#444" stroke-width="0.6"/>
<text x="20.90" y="405.00" font-size="3.4" text-anchor="middle" fill="#333" stroke="#333" stroke-width="0.08">0</text>
<line x1="33.97" y1="400.30" x2="33.97" y2="401.70" stroke="#444" stroke-width="0.6"/>
<text x="33.97" y="405.00" font-size="3.4" text-anchor="middle" fill="#333" stroke="#333" stroke-width="0.08">12</text>
<line x1="47.04" y1="400.30" x2="47.04" y2="401.70" stroke="#444" stroke-width="0.6"/>
<text x="47.04" y="405.00" font-size="3.4" text-anchor="middle" fill="#333" stroke="#333" stroke-width="0.08">24</text>
<line x1="60.11" y1="400.30" x2="60.11" y2="401.70" stroke="#444" stroke-width="0.6"/>
<text x="60.11" y="405.00" font-size="3.4" text-anchor="middle" fill="#333" stroke="#333" stroke-width="0.08">36</text>
<line x1="73.18" y1="400.30" x2="73.18" y2="401.70" stroke="#444" stroke-width="0.6"/>
<text x="73.18" y="405.00" font-size="3.4" text-anchor="middle" fill="#333" stroke="#333" stroke-width="0.08">48</text>
<line x1="86.25" y1="400.30" x2="86.25" y2="401.70" stroke="#444" stroke-width="0.6"/>
<text x="86.25" y="405.00" font-size="3.4" text-anchor="middle" fill="#333" stroke="#333" stroke-width="0.08">60</text>
<line x1="99.32" y1="400.30" x2="99.32" y2="401.70" stroke="#444" stroke-width="0.6"/>
<text x="99.32" y="405.00" font-size="3.4" text-anchor="middle" fill="#333" stroke="#333" stroke-width="0.08">72</text>
<line x1="112.39" y1="400.30" x2="112.39" y2="401.70" stroke="#444" stroke-width="0.6"/>
<text x="112.39" y="405.00" font-size="3.4" text-anchor="middle" fill="#333" stroke="#333" stroke-width="0.08">84</text>
<line x1="125.46" y1="400.30" x2="125.46" y2="401.70" stroke="#444" stroke-width="0.6"/>
<text x="125.46" y="405.00" font-size="3.4" text-anchor="middle" fill="#333" stroke="#333" stroke-width="0.08">96</text>
<line x1="138.53" y1="400.30" x2="138.53" y2="401.70" stroke="#444" stroke-width="0.6"/>
<text x="138.53" y="405.00" font-size="3.4" text-anchor="middle" fill="#333" stroke="#333" stroke-width="0.08">108</text>
<line x1="151.60" y1="400.30" x2="151.60" y2="401.70" stroke="#444" stroke-width="0.6"/>
<text x="151.60" y="405.00" font-size="3.4" text-anchor="middle" fill="#333" stroke="#333" stroke-width="0.08">120</text>
<text x="86.25" y="409.50" font-size="3.95" text-anchor="middle" stroke="#111" stroke-width="0.06">Time (months)</text>
<polyline points="21.10,327.75 23.00,327.75 24.25,327.75 24.25,330.25 25.82,330.25 25.82,331.18 27.40,331.18 27.40,332.10 34.90,332.10 35.50,332.10 35.50,334.00 46.10,334.00 48.00,334.00 48.00,336.50 49.55,336.50 49.55,337.75 51.10,337.75 51.10,339.00 53.10,339.00 53.10,341.50 54.30,341.50 54.30,343.70 55.50,343.70 55.50,345.90 57.12,345.90 57.12,346.70 58.75,346.70 58.75,347.50 60.32,347.50 60.32,349.37 61.88,349.37 61.88,351.23 63.45,351.23 63.45,353.10 64.70,353.10 64.70,354.98 65.95,354.98 65.95,356.87 67.20,356.87 67.20,358.75 69.07,358.75 69.07,360.32 70.93,360.32 70.93,361.88 72.80,361.88 72.80,363.45 74.22,363.45 74.22,365.32 75.65,365.32 75.65,367.20 77.53,367.20 77.53,368.15 79.40,368.15 79.40,369.10 81.28,369.10 81.28,370.05 83.15,370.05 83.15,371.00 85.03,371.00 85.03,371.69 86.90,371.69 86.90,372.38 88.78,372.38 88.78,373.06 90.65,373.06 90.65,373.75 92.08,373.75 92.08,376.23 93.50,376.23 93.50,378.70 150.70,378.70" fill="none" stroke="#2b2b2b" stroke-width="1.15" stroke-linejoin="miter"/>
<polyline points="21.10,327.75 25.50,327.75 26.75,327.75 26.75,329.60 34.25,329.60 35.50,329.60 35.50,332.10 38.00,332.10 38.00,333.40 39.25,333.40 39.25,335.25 44.25,335.25 46.10,335.25 46.10,337.75 47.05,337.75 47.05,339.62 48.00,339.62 48.00,341.50 48.47,341.50 48.47,343.20 48.93,343.20 48.93,344.90 49.40,344.90 49.40,346.60 51.75,346.60 51.75,347.75 53.38,347.75 53.38,349.50 55.00,349.50 55.00,351.25 56.88,351.25 56.88,352.19 58.75,352.19 58.75,353.12 60.62,353.12 60.62,354.06 62.50,354.06 62.50,355.00 63.43,355.00 63.43,356.87 64.37,356.87 64.37,358.73 65.30,358.73 65.30,360.60 66.23,360.60 66.23,362.80 67.17,362.80 67.17,365.00 68.10,365.00 68.10,367.20 70.00,367.20 70.00,368.60 71.90,368.60 71.90,370.00 73.78,370.00 73.78,371.88 75.65,371.88 75.65,373.75 77.50,373.75 77.50,376.60 79.38,376.60 79.38,376.98 81.26,376.98 81.26,377.36 83.14,377.36 83.14,377.74 85.02,377.74 85.02,378.12 86.90,378.12 86.90,378.50 88.78,378.50 88.78,380.35 90.65,380.35 90.65,382.20 93.50,382.20 93.50,384.10 109.50,384.10" fill="none" stroke="#3399ff" stroke-width="1.15" stroke-linejoin="miter"/>
<polyline points="21.10,327.75 21.30,327.75 21.30,329.62 21.50,329.62 21.50,331.50 24.50,331.50 25.50,331.50 25.50,332.75 26.12,332.75 26.12,335.25 26.75,335.25 26.75,337.75 27.38,337.75 27.38,339.62 28.00,339.62 28.00,341.50 28.95,341.50 28.95,343.05 29.90,343.05 29.90,344.60 30.50,344.60 30.50,346.18 31.10,346.18 31.10,347.75 32.05,347.75 32.05,349.32 33.00,349.32 33.00,350.90 33.20,350.90 33.20,352.93 33.40,352.93 33.40,354.97 33.60,354.97 33.60,357.00 44.70,357.00 46.55,357.00 46.55,358.80 48.40,358.80 48.40,360.60 48.65,360.60 48.65,362.73 48.90,362.73 48.90,364.85 49.15,364.85 49.15,366.98 49.40,366.98 49.40,369.10 56.90,369.10 57.83,369.10 57.83,371.43 58.75,371.43 58.75,373.75 60.60,373.75 60.60,375.60 62.95,375.60 62.95,376.55 65.30,376.55 65.30,377.50 66.25,377.50 66.25,380.30 83.15,380.30 83.62,380.30 83.62,382.40 84.10,382.40 84.10,384.50 117.50,384.50 117.50,396.20" fill="none" stroke="#d42a2a" stroke-width="1.15" stroke-linejoin="miter"/>
<line x1="100.00" y1="377.90" x2="100.00" y2="379.40" stroke="#2b2b2b" stroke-width="0.45"/>
<line x1="104.00" y1="377.90" x2="104.00" y2="379.40" stroke="#2b2b2b" stroke-width="0.45"/>
<line x1="118.50" y1="377.90" x2="118.50" y2="379.40" stroke="#2b2b2b" stroke-width="0.45"/>
<line x1="150.70" y1="377.90" x2="150.70" y2="379.40" stroke="#2b2b2b" stroke-width="0.45"/>
<line x1="97.00" y1="382.70" x2="97.00" y2="384.20" stroke="#2b2b2b" stroke-width="0.45"/>
<line x1="101.00" y1="382.70" x2="101.00" y2="384.20" stroke="#2b2b2b" stroke-width="0.45"/>
<line x1="104.00" y1="382.70" x2="104.00" y2="384.20" stroke="#2b2b2b" stroke-width="0.45"/>
<line x1="109.50" y1="382.70" x2="109.50" y2="384.20" stroke="#2b2b2b" stroke-width="0.45"/>
<line x1="23.20" y1="382.50" x2="28.60" y2="382.50" stroke="#2b2b2b" stroke-width="0.9"/>
<polygon points="24.60,382.80 25.90,381.20 27.20,382.80" fill="#2b2b2b"/>
<text x="31.00" y="383.60" font-size="3.3" fill="#222" stroke="#222" stroke-width="0.1">T1</text>
<line x1="23.20" y1="388.60" x2="28.60" y2="388.60" stroke="#3399ff" stroke-width="0.9"/>
<polygon points="24.60,388.90 25.90,387.30 27.20,388.90" fill="#3399ff"/>
<text x="31.00" y="389.70" font-size="3.3" fill="#222" stroke="#222" stroke-width="0.1">T2</text>
<line x1="23.20" y1="394.70" x2="28.60" y2="394.70" stroke="#d42a2a" stroke-width="0.9"/>
<polygon points="24.60,395.00 25.90,393.40 27.20,395.00" fill="#d42a2a"/>
<text x="31.00" y="395.80" font-size="3.3" fill="#222" stroke="#222" stroke-width="0.1">T3</text>
<line x1="77.60" y1="337.20" x2="157.50" y2="337.20" stroke="#555" stroke-width="0.5"/>
<line x1="77.60" y1="356.70" x2="157.50" y2="356.70" stroke="#555" stroke-width="0.5"/>
<text x="99.60" y="330.60" font-size="3.2" text-anchor="middle" font-weight="bold">Median Surv</text>
<text x="99.60" y="335.40" font-size="3.2" text-anchor="middle" font-weight="bold">(95% CI)</text>
<text x="126.90" y="330.60" font-size="3.2" text-anchor="middle" font-weight="bold">HR</text>
<text x="126.90" y="335.40" font-size="3.2" text-anchor="middle" font-weight="bold">(95% CI)</text>
<text x="148.60" y="332.90" font-size="3.2" text-anchor="middle" font-weight="bold" font-style="italic">P-value</text>
<text x="80.40" y="341.50" font-size="3.3" fill="#222" stroke="#222" stroke-width="0.06">T1</text>
<text x="99.60" y="341.50" font-size="3.2" text-anchor="middle" fill="#222" stroke="#222" stroke-width="0.04">46.2 (37.4, 66.7)</text>
<text x="80.40" y="348.40" font-size="3.3" fill="#222" stroke="#222" stroke-width="0.06">T2</text>
<text x="99.60" y="348.40" font-size="3.2" text-anchor="middle" fill="#222" stroke="#222" stroke-width="0.04">41.1 (30.9, 51.5)</text>
<text x="80.40" y="354.30" font-size="3.3" fill="#222" stroke="#222" stroke-width="0.06">T3</text>
<text x="99.60" y="354.30" font-size="3.2" text-anchor="middle" fill="#222" stroke="#222" stroke-width="0.04">24.9 (10.6, 57.7)</text>
<text x="126.90" y="341.50" font-size="3.2" text-anchor="middle" stroke="#111" stroke-width="0.08">Reference</text>
<text x="126.90" y="348.40" font-size="3.2" text-anchor="middle" stroke="#111" stroke-width="0.08">-</text>
<text x="126.90" y="354.30" font-size="3.2" text-anchor="middle" stroke="#111" stroke-width="0.08">2.04 (1.06, 3.93)</text>
<text x="148.60" y="341.50" font-size="3.2" text-anchor="middle" stroke="#111" stroke-width="0.08">0.03</text>
<text x="114.40" y="365.10" font-size="4.2" stroke="#111" stroke-width="0.05"><tspan font-style="italic">P</tspan><tspan font-size="2.8" dy="0.9">trend</tspan><tspan dy="-0.9"> = 0.028</tspan></text>
<text x="14.70" y="417.70" font-size="4.66" stroke="#111" stroke-width="0.05">Number at risk (number censored)</text>
<text x="9.40" y="425.50" font-size="3.3" fill="#2b2b2b" stroke="#2b2b2b" stroke-width="0.1">T1</text>
<text x="20.90" y="425.50" font-size="3.35" text-anchor="middle" fill="#222" stroke="#222" stroke-width="0.08">31 (0)</text>
<text x="33.97" y="425.50" font-size="3.35" text-anchor="middle" fill="#222" stroke="#222" stroke-width="0.08">29 (0)</text>
<text x="47.04" y="425.50" font-size="3.35" text-anchor="middle" fill="#222" stroke="#222" stroke-width="0.08">26 (1)</text>
<text x="60.11" y="425.50" font-size="3.35" text-anchor="middle" fill="#222" stroke="#222" stroke-width="0.08">20 (2)</text>
<text x="73.18" y="425.50" font-size="3.35" text-anchor="middle" fill="#222" stroke="#222" stroke-width="0.08">14 (3)</text>
<text x="86.25" y="425.50" font-size="3.35" text-anchor="middle" fill="#222" stroke="#222" stroke-width="0.08">9 (3)</text>
<text x="99.32" y="425.50" font-size="3.35" text-anchor="middle" fill="#222" stroke="#222" stroke-width="0.08">5 (6)</text>
<text x="112.39" y="425.50" font-size="3.35" text-anchor="middle" fill="#222" stroke="#222" stroke-width="0.08">2 (8)</text>
<text x="125.46" y="425.50" font-size="3.35" text-anchor="middle" fill="#222" stroke="#222" stroke-width="0.08">1 (9)</text>
<text x="138.53" y="425.50" font-size="3.35" text-anchor="middle" fill="#222" stroke="#222" stroke-width="0.08">1 (9)</text>
<text x="151.60" y="425.50" font-size="3.35" text-anchor="middle" fill="#222" stroke="#222" stroke-width="0.08">0 (10)</text>
<text x="9.40" y="431.70" font-size="3.3" fill="#3399ff" stroke="#3399ff" stroke-width="0.1">T2</text>
<text x="20.90" y="431.70" font-size="3.35" text-anchor="middle" fill="#222" stroke="#222" stroke-width="0.08">34 (0)</text>
<text x="33.97" y="431.70" font-size="3.35" text-anchor="middle" fill="#222" stroke="#222" stroke-width="0.08">30 (0)</text>
<text x="47.04" y="431.70" font-size="3.35" text-anchor="middle" fill="#222" stroke="#222" stroke-width="0.08">26 (0)</text>
<text x="60.11" y="431.70" font-size="3.35" text-anchor="middle" fill="#222" stroke="#222" stroke-width="0.08">20 (1)</text>
<text x="73.18" y="431.70" font-size="3.35" text-anchor="middle" fill="#222" stroke="#222" stroke-width="0.08">12 (2)</text>
<text x="86.25" y="431.70" font-size="3.35" text-anchor="middle" fill="#222" stroke="#222" stroke-width="0.08">8 (3)</text>
<text x="99.32" y="431.70" font-size="3.35" text-anchor="middle" fill="#222" stroke="#222" stroke-width="0.08">4 (4)</text>
<text x="112.39" y="431.70" font-size="3.35" text-anchor="middle" fill="#222" stroke="#222" stroke-width="0.08">0 (8)</text>
<text x="125.46" y="431.70" font-size="3.35" text-anchor="middle" fill="#222" stroke="#222" stroke-width="0.08">0 (8)</text>
<text x="138.53" y="431.70" font-size="3.35" text-anchor="middle" fill="#222" stroke="#222" stroke-width="0.08">0 (8)</text>
<text x="151.60" y="431.70" font-size="3.35" text-anchor="middle" fill="#222" stroke="#222" stroke-width="0.08">0 (8)</text>
<text x="9.40" y="438.10" font-size="3.3" fill="#d42a2a" stroke="#d42a2a" stroke-width="0.1">T3</text>
<text x="20.90" y="438.10" font-size="3.35" text-anchor="middle" fill="#222" stroke="#222" stroke-width="0.08">21 (0)</text>
<text x="33.97" y="438.10" font-size="3.35" text-anchor="middle" fill="#222" stroke="#222" stroke-width="0.08">12 (0)</text>
<text x="47.04" y="438.10" font-size="3.35" text-anchor="middle" fill="#222" stroke="#222" stroke-width="0.08">11 (0)</text>
<text x="60.11" y="438.10" font-size="3.35" text-anchor="middle" fill="#222" stroke="#222" stroke-width="0.08">6 (0)</text>
<text x="73.18" y="438.10" font-size="3.35" text-anchor="middle" fill="#222" stroke="#222" stroke-width="0.08">5 (0)</text>
<text x="86.25" y="438.10" font-size="3.35" text-anchor="middle" fill="#222" stroke="#222" stroke-width="0.08">3 (1)</text>
<text x="99.32" y="438.10" font-size="3.35" text-anchor="middle" fill="#222" stroke="#222" stroke-width="0.08">3 (1)</text>
<text x="112.39" y="438.10" font-size="3.35" text-anchor="middle" fill="#222" stroke="#222" stroke-width="0.08">1 (3)</text>
<text x="125.46" y="438.10" font-size="3.35" text-anchor="middle" fill="#222" stroke="#222" stroke-width="0.08">0 (3)</text>
<text x="138.53" y="438.10" font-size="3.35" text-anchor="middle" fill="#222" stroke="#222" stroke-width="0.08">0 (3)</text>
<text x="151.60" y="438.10" font-size="3.35" text-anchor="middle" fill="#222" stroke="#222" stroke-width="0.08">0 (3)</text>
<text x="167.00" y="308.40" font-size="9.6">F</text>
<text x="248.15" y="316.90" font-size="4.65" text-anchor="middle" stroke="#111" stroke-width="0.02">80405 L, RAS BRAF WT, cet; FOLFOX: CCR/L5</text>
<text x="0.00" y="0.00" font-size="3.9" text-anchor="middle" stroke="#111" stroke-width="0.07" transform="translate(166.20,362.85) rotate(-90)">Estimated probability of OS</text>
<line x1="176.80" y1="397.80" x2="320.50" y2="397.80" stroke="#ccc" stroke-width="0.3" stroke-dasharray="0.8,1.6"/>
<line x1="175.80" y1="325.00" x2="175.80" y2="401.20" stroke="#808080" stroke-width="0.9"/>
<line x1="175.35" y1="401.20" x2="320.50" y2="401.20" stroke="#808080" stroke-width="0.9"/>
<line x1="174.30" y1="328.30" x2="175.80" y2="328.30" stroke="#444" stroke-width="0.6"/>
<text x="173.50" y="329.35" font-size="3.2" text-anchor="end" fill="#333" stroke="#333" stroke-width="0.08">1.00</text>
<line x1="174.30" y1="345.57" x2="175.80" y2="345.57" stroke="#444" stroke-width="0.6"/>
<text x="173.50" y="346.62" font-size="3.2" text-anchor="end" fill="#333" stroke="#333" stroke-width="0.08">0.75</text>
<line x1="174.30" y1="362.85" x2="175.80" y2="362.85" stroke="#444" stroke-width="0.6"/>
<text x="173.50" y="363.90" font-size="3.2" text-anchor="end" fill="#333" stroke="#333" stroke-width="0.08">0.50</text>
<line x1="174.30" y1="380.12" x2="175.80" y2="380.12" stroke="#444" stroke-width="0.6"/>
<text x="173.50" y="381.18" font-size="3.2" text-anchor="end" fill="#333" stroke="#333" stroke-width="0.08">0.25</text>
<line x1="174.30" y1="397.40" x2="175.80" y2="397.40" stroke="#444" stroke-width="0.6"/>
<text x="173.50" y="398.45" font-size="3.2" text-anchor="end" fill="#333" stroke="#333" stroke-width="0.08">0.00</text>
<line x1="182.20" y1="401.20" x2="182.20" y2="402.60" stroke="#444" stroke-width="0.6"/>
<text x="182.20" y="405.90" font-size="3.4" text-anchor="middle" fill="#333" stroke="#333" stroke-width="0.08">0</text>
<line x1="195.29" y1="401.20" x2="195.29" y2="402.60" stroke="#444" stroke-width="0.6"/>
<text x="195.29" y="405.90" font-size="3.4" text-anchor="middle" fill="#333" stroke="#333" stroke-width="0.08">12</text>
<line x1="208.38" y1="401.20" x2="208.38" y2="402.60" stroke="#444" stroke-width="0.6"/>
<text x="208.38" y="405.90" font-size="3.4" text-anchor="middle" fill="#333" stroke="#333" stroke-width="0.08">24</text>
<line x1="221.47" y1="401.20" x2="221.47" y2="402.60" stroke="#444" stroke-width="0.6"/>
<text x="221.47" y="405.90" font-size="3.4" text-anchor="middle" fill="#333" stroke="#333" stroke-width="0.08">36</text>
<line x1="234.56" y1="401.20" x2="234.56" y2="402.60" stroke="#444" stroke-width="0.6"/>
<text x="234.56" y="405.90" font-size="3.4" text-anchor="middle" fill="#333" stroke="#333" stroke-width="0.08">48</text>
<line x1="247.65" y1="401.20" x2="247.65" y2="402.60" stroke="#444" stroke-width="0.6"/>
<text x="247.65" y="405.90" font-size="3.4" text-anchor="middle" fill="#333" stroke="#333" stroke-width="0.08">60</text>
<line x1="260.74" y1="401.20" x2="260.74" y2="402.60" stroke="#444" stroke-width="0.6"/>
<text x="260.74" y="405.90" font-size="3.4" text-anchor="middle" fill="#333" stroke="#333" stroke-width="0.08">72</text>
<line x1="273.83" y1="401.20" x2="273.83" y2="402.60" stroke="#444" stroke-width="0.6"/>
<text x="273.83" y="405.90" font-size="3.4" text-anchor="middle" fill="#333" stroke="#333" stroke-width="0.08">84</text>
<line x1="286.92" y1="401.20" x2="286.92" y2="402.60" stroke="#444" stroke-width="0.6"/>
<text x="286.92" y="405.90" font-size="3.4" text-anchor="middle" fill="#333" stroke="#333" stroke-width="0.08">96</text>
<line x1="300.01" y1="401.20" x2="300.01" y2="402.60" stroke="#444" stroke-width="0.6"/>
<text x="300.01" y="405.90" font-size="3.4" text-anchor="middle" fill="#333" stroke="#333" stroke-width="0.08">108</text>
<line x1="313.10" y1="401.20" x2="313.10" y2="402.60" stroke="#444" stroke-width="0.6"/>
<text x="313.10" y="405.90" font-size="3.4" text-anchor="middle" fill="#333" stroke="#333" stroke-width="0.08">120</text>
<text x="248.15" y="410.40" font-size="3.95" text-anchor="middle" stroke="#111" stroke-width="0.06">Time (months)</text>
<polyline points="182.30,328.70 196.40,328.70 196.40,331.50 207.30,331.50 207.70,331.50 207.70,333.05 208.10,333.05 208.10,334.60 215.20,334.60 215.95,334.60 215.95,336.30 216.70,336.30 216.70,338.00 218.30,338.00 218.30,340.40 220.00,340.40 220.00,342.20 222.20,342.20 222.20,344.40 224.40,344.40 224.40,346.60 225.48,346.60 225.48,348.40 226.57,348.40 226.57,350.20 227.65,350.20 227.65,352.00 229.10,352.00 229.10,353.83 230.55,353.83 230.55,355.67 232.00,355.67 232.00,357.50 234.20,357.50 234.20,359.70 236.40,359.70 236.40,361.90 238.05,361.90 238.05,363.55 239.70,363.55 239.70,365.20 241.53,365.20 241.53,366.27 243.37,366.27 243.37,367.33 245.20,367.33 245.20,368.40 247.00,368.40 247.00,369.50 248.80,369.50 248.80,370.60 250.60,370.60 250.60,371.70 252.25,371.70 252.25,373.35 253.90,373.35 253.90,375.00 255.00,375.00 255.00,377.60 310.60,377.60" fill="none" stroke="#2b2b2b" stroke-width="1.15" stroke-linejoin="miter"/>
<polyline points="182.30,328.70 184.13,328.70 184.13,329.47 185.97,329.47 185.97,330.23 187.80,330.23 187.80,331.00 195.60,331.00 198.00,331.00 198.00,333.40 198.75,333.40 198.75,334.95 199.50,334.95 199.50,336.50 199.90,336.50 199.90,338.05 200.30,338.05 200.30,339.60 202.65,339.60 202.65,340.00 205.00,340.00 205.00,340.40 206.55,340.40 206.55,342.35 208.10,342.35 208.10,344.30 209.68,344.30 209.68,345.85 211.25,345.85 211.25,347.40 213.60,347.40 213.60,349.80 214.75,349.80 214.75,351.35 215.90,351.35 215.90,352.90 217.50,352.90 217.50,353.70 219.80,353.70 219.80,354.23 222.10,354.23 222.10,354.77 224.40,354.77 224.40,355.30 225.13,355.30 225.13,357.13 225.87,357.13 225.87,358.97 226.60,358.97 226.60,360.80 228.22,360.80 228.22,363.00 229.85,363.00 229.85,365.20 231.67,365.20 231.67,366.63 233.48,366.63 233.48,368.07 235.30,368.07 235.30,369.50 237.50,369.50 237.50,370.60 239.70,370.60 239.70,371.70 241.90,371.70 241.90,373.35 244.10,373.35 244.10,375.00 246.27,375.00 246.27,376.10 248.43,376.10 248.43,377.20 250.60,377.20 250.60,378.30 251.70,378.30 251.70,379.95 252.80,379.95 252.80,381.60 253.90,381.60 253.90,383.25 255.00,383.25 255.00,384.90 271.40,384.90" fill="none" stroke="#3399ff" stroke-width="1.15" stroke-linejoin="miter"/>
<polyline points="182.30,328.70 187.00,328.70 187.00,332.60 187.40,332.60 187.40,334.55 187.80,334.55 187.80,336.50 188.07,336.50 188.07,338.33 188.33,338.33 188.33,340.17 188.60,340.17 188.60,342.00 190.20,342.00 190.20,342.75 190.55,342.75 190.55,345.07 190.90,345.07 190.90,347.40 192.45,347.40 192.45,347.80 194.00,347.80 194.00,348.20 194.27,348.20 194.27,350.30 194.53,350.30 194.53,352.40 194.80,352.40 194.80,354.50 195.07,354.50 195.07,356.57 195.33,356.57 195.33,358.63 195.60,358.63 195.60,360.70 209.70,360.70 209.70,370.10 221.40,370.10 222.35,370.10 222.35,372.55 223.30,372.55 223.30,375.00 245.20,375.00 245.72,375.00 245.72,377.20 246.25,377.20 246.25,379.40 248.43,379.40 248.43,380.87 250.62,380.87 250.62,382.33 252.80,382.33 252.80,383.80 279.10,383.80 279.10,398.00" fill="none" stroke="#d42a2a" stroke-width="1.15" stroke-linejoin="miter"/>
<line x1="262.00" y1="376.50" x2="262.00" y2="378.00" stroke="#2b2b2b" stroke-width="0.45"/>
<line x1="268.00" y1="376.50" x2="268.00" y2="378.00" stroke="#2b2b2b" stroke-width="0.45"/>
<line x1="285.00" y1="376.50" x2="285.00" y2="378.00" stroke="#2b2b2b" stroke-width="0.45"/>
<line x1="310.60" y1="376.50" x2="310.60" y2="378.00" stroke="#2b2b2b" stroke-width="0.45"/>
<line x1="258.00" y1="381.80" x2="258.00" y2="383.30" stroke="#2b2b2b" stroke-width="0.45"/>
<line x1="262.00" y1="381.80" x2="262.00" y2="383.30" stroke="#2b2b2b" stroke-width="0.45"/>
<line x1="266.00" y1="381.80" x2="266.00" y2="383.30" stroke="#2b2b2b" stroke-width="0.45"/>
<line x1="270.00" y1="381.80" x2="270.00" y2="383.30" stroke="#2b2b2b" stroke-width="0.45"/>
<line x1="184.60" y1="383.30" x2="190.00" y2="383.30" stroke="#2b2b2b" stroke-width="0.9"/>
<polygon points="186.00,383.60 187.30,382.00 188.60,383.60" fill="#2b2b2b"/>
<text x="192.40" y="384.40" font-size="3.3" fill="#222" stroke="#222" stroke-width="0.1">T1</text>
<line x1="184.60" y1="389.40" x2="190.00" y2="389.40" stroke="#3399ff" stroke-width="0.9"/>
<polygon points="186.00,389.70 187.30,388.10 188.60,389.70" fill="#3399ff"/>
<text x="192.40" y="390.50" font-size="3.3" fill="#222" stroke="#222" stroke-width="0.1">T2</text>
<line x1="184.60" y1="395.50" x2="190.00" y2="395.50" stroke="#d42a2a" stroke-width="0.9"/>
<polygon points="186.00,395.80 187.30,394.20 188.60,395.80" fill="#d42a2a"/>
<text x="192.40" y="396.60" font-size="3.3" fill="#222" stroke="#222" stroke-width="0.1">T3</text>
<line x1="239.00" y1="338.70" x2="318.90" y2="338.70" stroke="#555" stroke-width="0.5"/>
<line x1="239.00" y1="358.20" x2="318.90" y2="358.20" stroke="#555" stroke-width="0.5"/>
<text x="261.00" y="332.10" font-size="3.2" text-anchor="middle" font-weight="bold">Median Surv</text>
<text x="261.00" y="336.90" font-size="3.2" text-anchor="middle" font-weight="bold">(95% CI)</text>
<text x="288.30" y="332.10" font-size="3.2" text-anchor="middle" font-weight="bold">HR</text>
<text x="288.30" y="336.90" font-size="3.2" text-anchor="middle" font-weight="bold">(95% CI)</text>
<text x="310.00" y="334.40" font-size="3.2" text-anchor="middle" font-weight="bold" font-style="italic">P-value</text>
<text x="241.80" y="343.00" font-size="3.3" fill="#222" stroke="#222" stroke-width="0.06">T1</text>
<text x="261.00" y="343.00" font-size="3.2" text-anchor="middle" fill="#222" stroke="#222" stroke-width="0.04">50.1 (41.3, —)</text>
<text x="241.80" y="349.90" font-size="3.3" fill="#222" stroke="#222" stroke-width="0.06">T2</text>
<text x="261.00" y="349.90" font-size="3.2" text-anchor="middle" fill="#222" stroke="#222" stroke-width="0.04">41.0 (30.9, 54.0)</text>
<text x="241.80" y="355.80" font-size="3.3" fill="#222" stroke="#222" stroke-width="0.06">T3</text>
<text x="261.00" y="355.80" font-size="3.2" text-anchor="middle" fill="#222" stroke="#222" stroke-width="0.04">24.9 (10.6, —)</text>
<text x="288.30" y="343.00" font-size="3.2" text-anchor="middle" stroke="#111" stroke-width="0.08">Reference</text>
<text x="288.30" y="349.90" font-size="3.2" text-anchor="middle" stroke="#111" stroke-width="0.08">-</text>
<text x="288.30" y="355.80" font-size="3.2" text-anchor="middle" stroke="#111" stroke-width="0.08">2.19 (1.04, 4.62)</text>
<text x="310.00" y="343.00" font-size="3.2" text-anchor="middle" stroke="#111" stroke-width="0.08">0.044</text>
<text x="275.80" y="366.60" font-size="4.2" stroke="#111" stroke-width="0.05"><tspan font-style="italic">P</tspan><tspan font-size="2.8" dy="0.9">trend</tspan><tspan dy="-0.9"> = 0.045</tspan></text>
<text x="176.10" y="418.60" font-size="4.66" stroke="#111" stroke-width="0.05">Number at risk (number censored)</text>
<text x="170.80" y="426.40" font-size="3.3" fill="#2b2b2b" stroke="#2b2b2b" stroke-width="0.1">T1</text>
<text x="182.20" y="426.40" font-size="3.35" text-anchor="middle" fill="#222" stroke="#222" stroke-width="0.08">23 (0)</text>
<text x="195.29" y="426.40" font-size="3.35" text-anchor="middle" fill="#222" stroke="#222" stroke-width="0.08">23 (0)</text>
<text x="208.38" y="426.40" font-size="3.35" text-anchor="middle" fill="#222" stroke="#222" stroke-width="0.08">20 (1)</text>
<text x="221.47" y="426.40" font-size="3.35" text-anchor="middle" fill="#222" stroke="#222" stroke-width="0.08">17 (2)</text>
<text x="234.56" y="426.40" font-size="3.35" text-anchor="middle" fill="#222" stroke="#222" stroke-width="0.08">13 (2)</text>
<text x="247.65" y="426.40" font-size="3.35" text-anchor="middle" fill="#222" stroke="#222" stroke-width="0.08">8 (2)</text>
<text x="260.74" y="426.40" font-size="3.35" text-anchor="middle" fill="#222" stroke="#222" stroke-width="0.08">4 (4)</text>
<text x="273.83" y="426.40" font-size="3.35" text-anchor="middle" fill="#222" stroke="#222" stroke-width="0.08">2 (6)</text>
<text x="286.92" y="426.40" font-size="3.35" text-anchor="middle" fill="#222" stroke="#222" stroke-width="0.08">1 (7)</text>
<text x="300.01" y="426.40" font-size="3.35" text-anchor="middle" fill="#222" stroke="#222" stroke-width="0.08">1 (7)</text>
<text x="313.10" y="426.40" font-size="3.35" text-anchor="middle" fill="#222" stroke="#222" stroke-width="0.08">0 (8)</text>
<text x="170.80" y="432.60" font-size="3.3" fill="#3399ff" stroke="#3399ff" stroke-width="0.1">T2</text>
<text x="182.20" y="432.60" font-size="3.35" text-anchor="middle" fill="#222" stroke="#222" stroke-width="0.08">24 (0)</text>
<text x="195.29" y="432.60" font-size="3.35" text-anchor="middle" fill="#222" stroke="#222" stroke-width="0.08">23 (0)</text>
<text x="208.38" y="432.60" font-size="3.35" text-anchor="middle" fill="#222" stroke="#222" stroke-width="0.08">18 (0)</text>
<text x="221.47" y="432.60" font-size="3.35" text-anchor="middle" fill="#222" stroke="#222" stroke-width="0.08">15 (0)</text>
<text x="234.56" y="432.60" font-size="3.35" text-anchor="middle" fill="#222" stroke="#222" stroke-width="0.08">10 (0)</text>
<text x="247.65" y="432.60" font-size="3.35" text-anchor="middle" fill="#222" stroke="#222" stroke-width="0.08">7 (1)</text>
<text x="260.74" y="432.60" font-size="3.35" text-anchor="middle" fill="#222" stroke="#222" stroke-width="0.08">3 (2)</text>
<text x="273.83" y="432.60" font-size="3.35" text-anchor="middle" fill="#222" stroke="#222" stroke-width="0.08">0 (5)</text>
<text x="286.92" y="432.60" font-size="3.35" text-anchor="middle" fill="#222" stroke="#222" stroke-width="0.08">0 (5)</text>
<text x="300.01" y="432.60" font-size="3.35" text-anchor="middle" fill="#222" stroke="#222" stroke-width="0.08">0 (5)</text>
<text x="313.10" y="432.60" font-size="3.35" text-anchor="middle" fill="#222" stroke="#222" stroke-width="0.08">0 (5)</text>
<text x="170.80" y="439.00" font-size="3.3" fill="#d42a2a" stroke="#d42a2a" stroke-width="0.1">T3</text>
<text x="182.20" y="439.00" font-size="3.35" text-anchor="middle" fill="#222" stroke="#222" stroke-width="0.08">15 (0)</text>
<text x="195.29" y="439.00" font-size="3.35" text-anchor="middle" fill="#222" stroke="#222" stroke-width="0.08">8 (0)</text>
<text x="208.38" y="439.00" font-size="3.35" text-anchor="middle" fill="#222" stroke="#222" stroke-width="0.08">8 (0)</text>
<text x="221.47" y="439.00" font-size="3.35" text-anchor="middle" fill="#222" stroke="#222" stroke-width="0.08">5 (0)</text>
<text x="234.56" y="439.00" font-size="3.35" text-anchor="middle" fill="#222" stroke="#222" stroke-width="0.08">4 (0)</text>
<text x="247.65" y="439.00" font-size="3.35" text-anchor="middle" fill="#222" stroke="#222" stroke-width="0.08">1 (0)</text>
<text x="260.74" y="439.00" font-size="3.35" text-anchor="middle" fill="#222" stroke="#222" stroke-width="0.08">1 (0)</text>
<text x="273.83" y="439.00" font-size="3.35" text-anchor="middle" fill="#222" stroke="#222" stroke-width="0.08">1 (2)</text>
<text x="286.92" y="439.00" font-size="3.35" text-anchor="middle" fill="#222" stroke="#222" stroke-width="0.08">0 (2)</text>
<text x="300.01" y="439.00" font-size="3.35" text-anchor="middle" fill="#222" stroke="#222" stroke-width="0.08">0 (2)</text>
<text x="313.10" y="439.00" font-size="3.35" text-anchor="middle" fill="#222" stroke="#222" stroke-width="0.08">0 (2)</text>
</g>
</svg></body></html>
